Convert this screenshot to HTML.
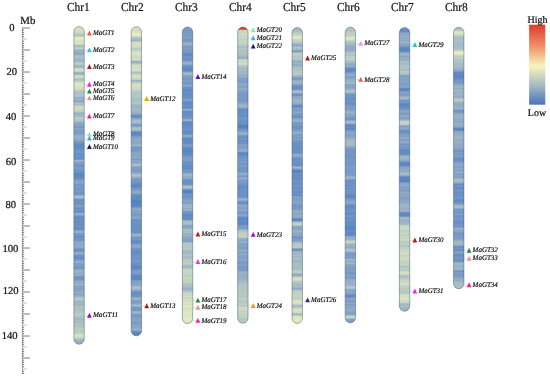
<!DOCTYPE html><html><head><meta charset="utf-8"><style>html,body{margin:0;padding:0;background:#fff;width:550px;height:376px;overflow:hidden}svg{display:block;filter:blur(0.3px)}text{text-rendering:geometricPrecision}</style></head><body>
<svg width="550" height="376" viewBox="0 0 550 376" font-family="'Liberation Serif', serif">
<defs>
<linearGradient id="leg" x1="0" y1="0" x2="0" y2="1"><stop offset="0" stop-color="#dc3a2e"/><stop offset="0.25" stop-color="#ee8a64"/><stop offset="0.52" stop-color="#f8f4bc"/><stop offset="0.75" stop-color="#a8bcc0"/><stop offset="1" stop-color="#4a74bc"/></linearGradient>
<linearGradient id="g0" gradientUnits="userSpaceOnUse" x1="0" y1="26.5" x2="0" y2="344.2"><stop offset="0.0000" stop-color="#d0ddc2"/><stop offset="0.0035" stop-color="#d5e0c2"/><stop offset="0.0069" stop-color="#d2dec2"/><stop offset="0.0104" stop-color="#d5e1c2"/><stop offset="0.0138" stop-color="#d6e1c2"/><stop offset="0.0173" stop-color="#cddbc2"/><stop offset="0.0208" stop-color="#c5d4c2"/><stop offset="0.0242" stop-color="#bccdc3"/><stop offset="0.0277" stop-color="#a9bec4"/><stop offset="0.0312" stop-color="#c1d1c2"/><stop offset="0.0346" stop-color="#e0e8c2"/><stop offset="0.0381" stop-color="#e2eac2"/><stop offset="0.0415" stop-color="#e1e9c2"/><stop offset="0.0450" stop-color="#d4e0c2"/><stop offset="0.0485" stop-color="#dbe5c2"/><stop offset="0.0519" stop-color="#dbe5c2"/><stop offset="0.0554" stop-color="#d8e3c2"/><stop offset="0.0589" stop-color="#b1c4c4"/><stop offset="0.0623" stop-color="#a0b7c5"/><stop offset="0.0658" stop-color="#b6c9c3"/><stop offset="0.0692" stop-color="#c5d4c2"/><stop offset="0.0727" stop-color="#a0b7c5"/><stop offset="0.0762" stop-color="#9cb3c6"/><stop offset="0.0796" stop-color="#98b1c6"/><stop offset="0.0831" stop-color="#90abc6"/><stop offset="0.0866" stop-color="#88a5c6"/><stop offset="0.0900" stop-color="#a3b9c5"/><stop offset="0.0935" stop-color="#a4bac5"/><stop offset="0.0969" stop-color="#b2c5c4"/><stop offset="0.1004" stop-color="#a8bdc5"/><stop offset="0.1039" stop-color="#9bb3c6"/><stop offset="0.1073" stop-color="#9fb6c5"/><stop offset="0.1108" stop-color="#9db5c5"/><stop offset="0.1143" stop-color="#bfd0c2"/><stop offset="0.1177" stop-color="#b9cbc3"/><stop offset="0.1212" stop-color="#b2c5c4"/><stop offset="0.1246" stop-color="#9eb5c5"/><stop offset="0.1281" stop-color="#9cb4c6"/><stop offset="0.1316" stop-color="#c3d3c2"/><stop offset="0.1350" stop-color="#cfdcc2"/><stop offset="0.1385" stop-color="#dae4c2"/><stop offset="0.1420" stop-color="#bdcec3"/><stop offset="0.1454" stop-color="#99b1c6"/><stop offset="0.1489" stop-color="#90abc6"/><stop offset="0.1523" stop-color="#b2c5c4"/><stop offset="0.1558" stop-color="#d2dfc2"/><stop offset="0.1593" stop-color="#d2dec2"/><stop offset="0.1627" stop-color="#c3d3c2"/><stop offset="0.1662" stop-color="#a6bcc5"/><stop offset="0.1697" stop-color="#b1c5c4"/><stop offset="0.1731" stop-color="#c1d1c2"/><stop offset="0.1766" stop-color="#d9e4c2"/><stop offset="0.1800" stop-color="#dbe5c2"/><stop offset="0.1835" stop-color="#e0e8c2"/><stop offset="0.1870" stop-color="#dde7c2"/><stop offset="0.1904" stop-color="#d7e2c2"/><stop offset="0.1939" stop-color="#d3dfc2"/><stop offset="0.1974" stop-color="#cad8c2"/><stop offset="0.2008" stop-color="#c1d1c2"/><stop offset="0.2043" stop-color="#afc3c4"/><stop offset="0.2077" stop-color="#b2c5c4"/><stop offset="0.2112" stop-color="#a8bdc5"/><stop offset="0.2147" stop-color="#b4c7c3"/><stop offset="0.2181" stop-color="#afc3c4"/><stop offset="0.2216" stop-color="#a5bbc5"/><stop offset="0.2251" stop-color="#90abc6"/><stop offset="0.2285" stop-color="#9eb5c5"/><stop offset="0.2320" stop-color="#99b2c6"/><stop offset="0.2354" stop-color="#7a9bc6"/><stop offset="0.2389" stop-color="#a6bcc5"/><stop offset="0.2424" stop-color="#acc0c4"/><stop offset="0.2458" stop-color="#a6bcc5"/><stop offset="0.2493" stop-color="#bccdc3"/><stop offset="0.2528" stop-color="#cfdcc2"/><stop offset="0.2562" stop-color="#d1dec2"/><stop offset="0.2597" stop-color="#c4d3c2"/><stop offset="0.2631" stop-color="#cddac2"/><stop offset="0.2666" stop-color="#c4d3c2"/><stop offset="0.2701" stop-color="#b2c5c4"/><stop offset="0.2735" stop-color="#91acc6"/><stop offset="0.2770" stop-color="#9eb6c5"/><stop offset="0.2805" stop-color="#a0b7c5"/><stop offset="0.2839" stop-color="#a5bac5"/><stop offset="0.2874" stop-color="#c1d1c2"/><stop offset="0.2908" stop-color="#b5c7c3"/><stop offset="0.2943" stop-color="#b0c4c4"/><stop offset="0.2978" stop-color="#b4c7c3"/><stop offset="0.3012" stop-color="#92acc6"/><stop offset="0.3047" stop-color="#8aa6c6"/><stop offset="0.3082" stop-color="#8aa6c6"/><stop offset="0.3116" stop-color="#89a6c6"/><stop offset="0.3151" stop-color="#7c9cc6"/><stop offset="0.3185" stop-color="#799ac6"/><stop offset="0.3220" stop-color="#91abc6"/><stop offset="0.3255" stop-color="#7a9bc6"/><stop offset="0.3289" stop-color="#83a1c6"/><stop offset="0.3324" stop-color="#81a0c6"/><stop offset="0.3359" stop-color="#7396c6"/><stop offset="0.3393" stop-color="#88a5c6"/><stop offset="0.3428" stop-color="#96afc6"/><stop offset="0.3462" stop-color="#99b1c6"/><stop offset="0.3497" stop-color="#98b1c6"/><stop offset="0.3532" stop-color="#97b0c6"/><stop offset="0.3566" stop-color="#8da8c6"/><stop offset="0.3601" stop-color="#83a1c6"/><stop offset="0.3636" stop-color="#7698c6"/><stop offset="0.3670" stop-color="#6b92c5"/><stop offset="0.3705" stop-color="#638dc4"/><stop offset="0.3739" stop-color="#5b88c4"/><stop offset="0.3774" stop-color="#5b88c4"/><stop offset="0.3809" stop-color="#6890c5"/><stop offset="0.3843" stop-color="#5e8ac4"/><stop offset="0.3878" stop-color="#6d93c5"/><stop offset="0.3912" stop-color="#6b92c5"/><stop offset="0.3947" stop-color="#7497c6"/><stop offset="0.3982" stop-color="#7195c6"/><stop offset="0.4016" stop-color="#608bc4"/><stop offset="0.4051" stop-color="#6d92c5"/><stop offset="0.4086" stop-color="#6d93c5"/><stop offset="0.4120" stop-color="#608bc4"/><stop offset="0.4155" stop-color="#6d93c5"/><stop offset="0.4189" stop-color="#7598c6"/><stop offset="0.4224" stop-color="#a6bcc5"/><stop offset="0.4259" stop-color="#8ba7c6"/><stop offset="0.4293" stop-color="#7c9cc6"/><stop offset="0.4328" stop-color="#7d9dc6"/><stop offset="0.4363" stop-color="#6c92c5"/><stop offset="0.4397" stop-color="#6d92c5"/><stop offset="0.4432" stop-color="#7b9cc6"/><stop offset="0.4466" stop-color="#83a2c6"/><stop offset="0.4501" stop-color="#7195c6"/><stop offset="0.4536" stop-color="#7597c6"/><stop offset="0.4570" stop-color="#6e94c5"/><stop offset="0.4605" stop-color="#5f8bc4"/><stop offset="0.4640" stop-color="#5c89c4"/><stop offset="0.4674" stop-color="#5c88c4"/><stop offset="0.4709" stop-color="#5c89c4"/><stop offset="0.4743" stop-color="#608bc4"/><stop offset="0.4778" stop-color="#638dc4"/><stop offset="0.4813" stop-color="#7396c6"/><stop offset="0.4847" stop-color="#84a2c6"/><stop offset="0.4882" stop-color="#82a1c6"/><stop offset="0.4917" stop-color="#8ba7c6"/><stop offset="0.4951" stop-color="#83a1c6"/><stop offset="0.4986" stop-color="#7296c6"/><stop offset="0.5020" stop-color="#7095c6"/><stop offset="0.5055" stop-color="#7f9ec6"/><stop offset="0.5090" stop-color="#7095c6"/><stop offset="0.5124" stop-color="#6f94c5"/><stop offset="0.5159" stop-color="#7597c6"/><stop offset="0.5194" stop-color="#7c9cc6"/><stop offset="0.5228" stop-color="#6d93c5"/><stop offset="0.5263" stop-color="#7296c6"/><stop offset="0.5297" stop-color="#7296c6"/><stop offset="0.5332" stop-color="#a2b9c5"/><stop offset="0.5367" stop-color="#adc1c4"/><stop offset="0.5401" stop-color="#a2b9c5"/><stop offset="0.5436" stop-color="#6f94c5"/><stop offset="0.5471" stop-color="#6b92c5"/><stop offset="0.5505" stop-color="#6d93c5"/><stop offset="0.5540" stop-color="#7296c6"/><stop offset="0.5574" stop-color="#6990c5"/><stop offset="0.5609" stop-color="#7296c6"/><stop offset="0.5644" stop-color="#81a0c6"/><stop offset="0.5678" stop-color="#84a2c6"/><stop offset="0.5713" stop-color="#638dc4"/><stop offset="0.5748" stop-color="#7195c6"/><stop offset="0.5782" stop-color="#7195c6"/><stop offset="0.5817" stop-color="#638dc4"/><stop offset="0.5851" stop-color="#6c92c5"/><stop offset="0.5886" stop-color="#95aec6"/><stop offset="0.5921" stop-color="#90abc6"/><stop offset="0.5955" stop-color="#789ac6"/><stop offset="0.5990" stop-color="#678fc5"/><stop offset="0.6025" stop-color="#628cc4"/><stop offset="0.6059" stop-color="#668ec5"/><stop offset="0.6094" stop-color="#7095c6"/><stop offset="0.6128" stop-color="#658ec5"/><stop offset="0.6163" stop-color="#678fc5"/><stop offset="0.6198" stop-color="#6890c5"/><stop offset="0.6232" stop-color="#6890c5"/><stop offset="0.6267" stop-color="#6890c5"/><stop offset="0.6302" stop-color="#7396c6"/><stop offset="0.6336" stop-color="#638dc4"/><stop offset="0.6371" stop-color="#5f8bc4"/><stop offset="0.6405" stop-color="#7497c6"/><stop offset="0.6440" stop-color="#8ea9c6"/><stop offset="0.6475" stop-color="#a1b7c5"/><stop offset="0.6509" stop-color="#7799c6"/><stop offset="0.6544" stop-color="#7497c6"/><stop offset="0.6579" stop-color="#7396c6"/><stop offset="0.6613" stop-color="#648dc4"/><stop offset="0.6648" stop-color="#6f94c5"/><stop offset="0.6682" stop-color="#7195c6"/><stop offset="0.6717" stop-color="#6e93c5"/><stop offset="0.6752" stop-color="#7a9bc6"/><stop offset="0.6786" stop-color="#90abc6"/><stop offset="0.6821" stop-color="#91acc6"/><stop offset="0.6856" stop-color="#8ea9c6"/><stop offset="0.6890" stop-color="#8aa6c6"/><stop offset="0.6925" stop-color="#98b1c6"/><stop offset="0.6959" stop-color="#86a4c6"/><stop offset="0.6994" stop-color="#799ac6"/><stop offset="0.7029" stop-color="#608bc4"/><stop offset="0.7063" stop-color="#7396c6"/><stop offset="0.7098" stop-color="#7f9ec6"/><stop offset="0.7133" stop-color="#9fb6c5"/><stop offset="0.7167" stop-color="#85a3c6"/><stop offset="0.7202" stop-color="#7396c6"/><stop offset="0.7236" stop-color="#6c92c5"/><stop offset="0.7271" stop-color="#5f8bc4"/><stop offset="0.7306" stop-color="#6f94c5"/><stop offset="0.7340" stop-color="#7195c6"/><stop offset="0.7375" stop-color="#87a4c6"/><stop offset="0.7410" stop-color="#9ab2c6"/><stop offset="0.7444" stop-color="#8aa6c6"/><stop offset="0.7479" stop-color="#7497c6"/><stop offset="0.7513" stop-color="#83a1c6"/><stop offset="0.7548" stop-color="#799ac6"/><stop offset="0.7583" stop-color="#7396c6"/><stop offset="0.7617" stop-color="#7195c6"/><stop offset="0.7652" stop-color="#8da9c6"/><stop offset="0.7686" stop-color="#95afc6"/><stop offset="0.7721" stop-color="#9cb4c5"/><stop offset="0.7756" stop-color="#92acc6"/><stop offset="0.7790" stop-color="#8da9c6"/><stop offset="0.7825" stop-color="#97b0c6"/><stop offset="0.7860" stop-color="#82a1c6"/><stop offset="0.7894" stop-color="#638dc4"/><stop offset="0.7929" stop-color="#7095c6"/><stop offset="0.7963" stop-color="#7396c6"/><stop offset="0.7998" stop-color="#82a1c6"/><stop offset="0.8033" stop-color="#9db5c5"/><stop offset="0.8067" stop-color="#88a5c6"/><stop offset="0.8102" stop-color="#99b1c6"/><stop offset="0.8137" stop-color="#9eb5c5"/><stop offset="0.8171" stop-color="#89a6c6"/><stop offset="0.8206" stop-color="#86a3c6"/><stop offset="0.8240" stop-color="#7f9fc6"/><stop offset="0.8275" stop-color="#87a4c6"/><stop offset="0.8310" stop-color="#84a2c6"/><stop offset="0.8344" stop-color="#8ca8c6"/><stop offset="0.8379" stop-color="#9ab2c6"/><stop offset="0.8414" stop-color="#88a5c6"/><stop offset="0.8448" stop-color="#89a6c6"/><stop offset="0.8483" stop-color="#95aec6"/><stop offset="0.8517" stop-color="#a3bac5"/><stop offset="0.8552" stop-color="#b0c4c4"/><stop offset="0.8587" stop-color="#bdcec3"/><stop offset="0.8621" stop-color="#aec2c4"/><stop offset="0.8656" stop-color="#99b1c6"/><stop offset="0.8691" stop-color="#a2b9c5"/><stop offset="0.8725" stop-color="#9eb5c5"/><stop offset="0.8760" stop-color="#9eb5c5"/><stop offset="0.8794" stop-color="#a4bac5"/><stop offset="0.8829" stop-color="#afc3c4"/><stop offset="0.8864" stop-color="#b0c3c4"/><stop offset="0.8898" stop-color="#abc0c4"/><stop offset="0.8933" stop-color="#aabfc4"/><stop offset="0.8968" stop-color="#b3c6c4"/><stop offset="0.9002" stop-color="#b1c5c4"/><stop offset="0.9037" stop-color="#b9cbc3"/><stop offset="0.9071" stop-color="#bccdc3"/><stop offset="0.9106" stop-color="#b6c8c3"/><stop offset="0.9141" stop-color="#acc1c4"/><stop offset="0.9175" stop-color="#a5bbc5"/><stop offset="0.9210" stop-color="#9fb6c5"/><stop offset="0.9245" stop-color="#a4bac5"/><stop offset="0.9279" stop-color="#a8bdc4"/><stop offset="0.9314" stop-color="#a2b8c5"/><stop offset="0.9348" stop-color="#afc3c4"/><stop offset="0.9383" stop-color="#b0c4c4"/><stop offset="0.9418" stop-color="#adc1c4"/><stop offset="0.9452" stop-color="#aec2c4"/><stop offset="0.9487" stop-color="#b6c8c3"/><stop offset="0.9522" stop-color="#bccdc3"/><stop offset="0.9556" stop-color="#b7c9c3"/><stop offset="0.9591" stop-color="#bbcdc3"/><stop offset="0.9625" stop-color="#b7c9c3"/><stop offset="0.9660" stop-color="#bfd0c2"/><stop offset="0.9695" stop-color="#d4e0c2"/><stop offset="0.9729" stop-color="#d6e2c2"/><stop offset="0.9764" stop-color="#cddbc2"/><stop offset="0.9799" stop-color="#c8d7c2"/><stop offset="0.9833" stop-color="#b1c4c4"/><stop offset="0.9868" stop-color="#9eb5c5"/><stop offset="0.9902" stop-color="#9fb6c5"/><stop offset="0.9937" stop-color="#92acc6"/><stop offset="0.9972" stop-color="#9fb6c5"/></linearGradient>
<linearGradient id="g1" gradientUnits="userSpaceOnUse" x1="0" y1="26.7" x2="0" y2="335.8"><stop offset="0.0000" stop-color="#d5e1c2"/><stop offset="0.0036" stop-color="#d3dfc2"/><stop offset="0.0071" stop-color="#d5e1c2"/><stop offset="0.0107" stop-color="#cfdcc2"/><stop offset="0.0142" stop-color="#d8e3c2"/><stop offset="0.0178" stop-color="#d8e3c2"/><stop offset="0.0214" stop-color="#e1e9c2"/><stop offset="0.0249" stop-color="#eaf0be"/><stop offset="0.0285" stop-color="#e7edbf"/><stop offset="0.0320" stop-color="#cad8c2"/><stop offset="0.0356" stop-color="#b5c8c3"/><stop offset="0.0391" stop-color="#a9bec4"/><stop offset="0.0427" stop-color="#a1b7c5"/><stop offset="0.0463" stop-color="#9bb3c6"/><stop offset="0.0498" stop-color="#cfdcc2"/><stop offset="0.0534" stop-color="#d5e1c2"/><stop offset="0.0569" stop-color="#d2dfc2"/><stop offset="0.0605" stop-color="#d0ddc2"/><stop offset="0.0641" stop-color="#d6e2c2"/><stop offset="0.0676" stop-color="#c5d4c2"/><stop offset="0.0712" stop-color="#b9cbc3"/><stop offset="0.0747" stop-color="#b9cbc3"/><stop offset="0.0783" stop-color="#c7d6c2"/><stop offset="0.0819" stop-color="#d7e2c2"/><stop offset="0.0854" stop-color="#dae4c2"/><stop offset="0.0890" stop-color="#dae4c2"/><stop offset="0.0925" stop-color="#d5e1c2"/><stop offset="0.0961" stop-color="#cddac2"/><stop offset="0.0996" stop-color="#ccdac2"/><stop offset="0.1032" stop-color="#cedbc2"/><stop offset="0.1068" stop-color="#dae4c2"/><stop offset="0.1103" stop-color="#aec2c4"/><stop offset="0.1139" stop-color="#92acc6"/><stop offset="0.1174" stop-color="#9fb6c5"/><stop offset="0.1210" stop-color="#bbccc3"/><stop offset="0.1246" stop-color="#d5e0c2"/><stop offset="0.1281" stop-color="#d3dfc2"/><stop offset="0.1317" stop-color="#cddbc2"/><stop offset="0.1352" stop-color="#d5e1c2"/><stop offset="0.1388" stop-color="#d8e3c2"/><stop offset="0.1423" stop-color="#cedcc2"/><stop offset="0.1459" stop-color="#b9cbc3"/><stop offset="0.1495" stop-color="#acc1c4"/><stop offset="0.1530" stop-color="#b6c8c3"/><stop offset="0.1566" stop-color="#d4e0c2"/><stop offset="0.1601" stop-color="#d8e3c2"/><stop offset="0.1637" stop-color="#d3dfc2"/><stop offset="0.1673" stop-color="#cad8c2"/><stop offset="0.1708" stop-color="#c0d1c2"/><stop offset="0.1744" stop-color="#98b1c6"/><stop offset="0.1779" stop-color="#a6bcc5"/><stop offset="0.1815" stop-color="#bccdc3"/><stop offset="0.1851" stop-color="#d5e1c2"/><stop offset="0.1886" stop-color="#cedbc2"/><stop offset="0.1922" stop-color="#d7e2c2"/><stop offset="0.1957" stop-color="#cddbc2"/><stop offset="0.1993" stop-color="#cfdcc2"/><stop offset="0.2028" stop-color="#cedbc2"/><stop offset="0.2064" stop-color="#c0d0c2"/><stop offset="0.2100" stop-color="#b7c9c3"/><stop offset="0.2135" stop-color="#b6c9c3"/><stop offset="0.2171" stop-color="#b3c6c3"/><stop offset="0.2206" stop-color="#b4c7c3"/><stop offset="0.2242" stop-color="#baccc3"/><stop offset="0.2278" stop-color="#b0c4c4"/><stop offset="0.2313" stop-color="#a8bdc4"/><stop offset="0.2349" stop-color="#adc1c4"/><stop offset="0.2384" stop-color="#a7bcc5"/><stop offset="0.2420" stop-color="#b1c4c4"/><stop offset="0.2456" stop-color="#b4c7c3"/><stop offset="0.2491" stop-color="#afc3c4"/><stop offset="0.2527" stop-color="#a2b8c5"/><stop offset="0.2562" stop-color="#9fb6c5"/><stop offset="0.2598" stop-color="#a1b7c5"/><stop offset="0.2633" stop-color="#97b0c6"/><stop offset="0.2669" stop-color="#a7bcc5"/><stop offset="0.2705" stop-color="#9eb6c5"/><stop offset="0.2740" stop-color="#9eb5c5"/><stop offset="0.2776" stop-color="#99b1c6"/><stop offset="0.2811" stop-color="#95aec6"/><stop offset="0.2847" stop-color="#789ac6"/><stop offset="0.2883" stop-color="#5d89c4"/><stop offset="0.2918" stop-color="#668fc5"/><stop offset="0.2954" stop-color="#7b9cc6"/><stop offset="0.2989" stop-color="#8faac6"/><stop offset="0.3025" stop-color="#a3b9c5"/><stop offset="0.3060" stop-color="#abc0c4"/><stop offset="0.3096" stop-color="#a2b9c5"/><stop offset="0.3132" stop-color="#9db5c5"/><stop offset="0.3167" stop-color="#7497c6"/><stop offset="0.3203" stop-color="#7698c6"/><stop offset="0.3238" stop-color="#8eaac6"/><stop offset="0.3274" stop-color="#acc0c4"/><stop offset="0.3310" stop-color="#acc1c4"/><stop offset="0.3345" stop-color="#b0c3c4"/><stop offset="0.3381" stop-color="#7e9dc6"/><stop offset="0.3416" stop-color="#5e8ac4"/><stop offset="0.3452" stop-color="#5a87c3"/><stop offset="0.3488" stop-color="#5d89c4"/><stop offset="0.3523" stop-color="#6890c5"/><stop offset="0.3559" stop-color="#7a9bc6"/><stop offset="0.3594" stop-color="#89a5c6"/><stop offset="0.3630" stop-color="#88a5c6"/><stop offset="0.3665" stop-color="#97b0c6"/><stop offset="0.3701" stop-color="#89a6c6"/><stop offset="0.3737" stop-color="#8aa7c6"/><stop offset="0.3772" stop-color="#8ba7c6"/><stop offset="0.3808" stop-color="#95aec6"/><stop offset="0.3843" stop-color="#a1b7c5"/><stop offset="0.3879" stop-color="#82a1c6"/><stop offset="0.3915" stop-color="#7597c6"/><stop offset="0.3950" stop-color="#7597c6"/><stop offset="0.3986" stop-color="#7698c6"/><stop offset="0.4021" stop-color="#7597c6"/><stop offset="0.4057" stop-color="#809fc6"/><stop offset="0.4093" stop-color="#8ba7c6"/><stop offset="0.4128" stop-color="#8ca8c6"/><stop offset="0.4164" stop-color="#84a2c6"/><stop offset="0.4199" stop-color="#8aa7c6"/><stop offset="0.4235" stop-color="#92acc6"/><stop offset="0.4270" stop-color="#7c9cc6"/><stop offset="0.4306" stop-color="#7e9ec6"/><stop offset="0.4342" stop-color="#89a6c6"/><stop offset="0.4377" stop-color="#8ba7c6"/><stop offset="0.4413" stop-color="#8aa6c6"/><stop offset="0.4448" stop-color="#a2b8c5"/><stop offset="0.4484" stop-color="#b4c7c3"/><stop offset="0.4520" stop-color="#8faac6"/><stop offset="0.4555" stop-color="#7f9ec6"/><stop offset="0.4591" stop-color="#83a2c6"/><stop offset="0.4626" stop-color="#7597c6"/><stop offset="0.4662" stop-color="#809fc6"/><stop offset="0.4698" stop-color="#7c9dc6"/><stop offset="0.4733" stop-color="#8ea9c6"/><stop offset="0.4769" stop-color="#9bb3c6"/><stop offset="0.4804" stop-color="#b5c8c3"/><stop offset="0.4840" stop-color="#aabfc4"/><stop offset="0.4875" stop-color="#90abc6"/><stop offset="0.4911" stop-color="#84a2c6"/><stop offset="0.4947" stop-color="#7195c6"/><stop offset="0.4982" stop-color="#7b9cc6"/><stop offset="0.5018" stop-color="#6e93c5"/><stop offset="0.5053" stop-color="#6e94c5"/><stop offset="0.5089" stop-color="#678fc5"/><stop offset="0.5125" stop-color="#5a87c3"/><stop offset="0.5160" stop-color="#5c89c4"/><stop offset="0.5196" stop-color="#5d89c4"/><stop offset="0.5231" stop-color="#7497c6"/><stop offset="0.5267" stop-color="#7e9dc6"/><stop offset="0.5302" stop-color="#7a9bc6"/><stop offset="0.5338" stop-color="#94aec6"/><stop offset="0.5374" stop-color="#91acc6"/><stop offset="0.5409" stop-color="#7396c6"/><stop offset="0.5445" stop-color="#6a91c5"/><stop offset="0.5480" stop-color="#628cc4"/><stop offset="0.5516" stop-color="#5e8ac4"/><stop offset="0.5552" stop-color="#5d89c4"/><stop offset="0.5587" stop-color="#5f8bc4"/><stop offset="0.5623" stop-color="#5986c3"/><stop offset="0.5658" stop-color="#5483c3"/><stop offset="0.5694" stop-color="#5584c3"/><stop offset="0.5730" stop-color="#5986c3"/><stop offset="0.5765" stop-color="#5986c3"/><stop offset="0.5801" stop-color="#5986c3"/><stop offset="0.5836" stop-color="#6c92c5"/><stop offset="0.5872" stop-color="#84a2c6"/><stop offset="0.5907" stop-color="#91abc6"/><stop offset="0.5943" stop-color="#8aa7c6"/><stop offset="0.5979" stop-color="#7a9bc6"/><stop offset="0.6014" stop-color="#84a2c6"/><stop offset="0.6050" stop-color="#7a9bc6"/><stop offset="0.6085" stop-color="#799ac6"/><stop offset="0.6121" stop-color="#7f9ec6"/><stop offset="0.6157" stop-color="#85a3c6"/><stop offset="0.6192" stop-color="#8da9c6"/><stop offset="0.6228" stop-color="#7798c6"/><stop offset="0.6263" stop-color="#658ec5"/><stop offset="0.6299" stop-color="#6e93c5"/><stop offset="0.6335" stop-color="#6a91c5"/><stop offset="0.6370" stop-color="#6a91c5"/><stop offset="0.6406" stop-color="#658ec5"/><stop offset="0.6441" stop-color="#6990c5"/><stop offset="0.6477" stop-color="#678fc5"/><stop offset="0.6512" stop-color="#6f94c5"/><stop offset="0.6548" stop-color="#6a91c5"/><stop offset="0.6584" stop-color="#6990c5"/><stop offset="0.6619" stop-color="#6a91c5"/><stop offset="0.6655" stop-color="#6a91c5"/><stop offset="0.6690" stop-color="#7f9ec6"/><stop offset="0.6726" stop-color="#9bb3c6"/><stop offset="0.6762" stop-color="#9db4c5"/><stop offset="0.6797" stop-color="#7698c6"/><stop offset="0.6833" stop-color="#7095c6"/><stop offset="0.6868" stop-color="#7497c6"/><stop offset="0.6904" stop-color="#6d93c5"/><stop offset="0.6940" stop-color="#638dc4"/><stop offset="0.6975" stop-color="#5a87c3"/><stop offset="0.7011" stop-color="#6d93c5"/><stop offset="0.7046" stop-color="#83a1c6"/><stop offset="0.7082" stop-color="#88a5c6"/><stop offset="0.7117" stop-color="#91abc6"/><stop offset="0.7153" stop-color="#7e9ec6"/><stop offset="0.7189" stop-color="#6f94c5"/><stop offset="0.7224" stop-color="#6c92c5"/><stop offset="0.7260" stop-color="#658ec5"/><stop offset="0.7295" stop-color="#638dc4"/><stop offset="0.7331" stop-color="#638dc4"/><stop offset="0.7367" stop-color="#618cc4"/><stop offset="0.7402" stop-color="#7095c6"/><stop offset="0.7438" stop-color="#7396c6"/><stop offset="0.7473" stop-color="#648dc4"/><stop offset="0.7509" stop-color="#6f94c5"/><stop offset="0.7544" stop-color="#799ac6"/><stop offset="0.7580" stop-color="#6f94c5"/><stop offset="0.7616" stop-color="#7899c6"/><stop offset="0.7651" stop-color="#6b92c5"/><stop offset="0.7687" stop-color="#6890c5"/><stop offset="0.7722" stop-color="#668fc5"/><stop offset="0.7758" stop-color="#5886c3"/><stop offset="0.7794" stop-color="#5a87c3"/><stop offset="0.7829" stop-color="#668ec5"/><stop offset="0.7865" stop-color="#6e93c5"/><stop offset="0.7900" stop-color="#7798c6"/><stop offset="0.7936" stop-color="#7f9ec6"/><stop offset="0.7972" stop-color="#7e9dc6"/><stop offset="0.8007" stop-color="#7698c6"/><stop offset="0.8043" stop-color="#5c88c4"/><stop offset="0.8078" stop-color="#5886c3"/><stop offset="0.8114" stop-color="#628cc4"/><stop offset="0.8149" stop-color="#5886c3"/><stop offset="0.8185" stop-color="#5f8bc4"/><stop offset="0.8221" stop-color="#7d9dc6"/><stop offset="0.8256" stop-color="#83a1c6"/><stop offset="0.8292" stop-color="#89a6c6"/><stop offset="0.8327" stop-color="#7d9dc6"/><stop offset="0.8363" stop-color="#89a6c6"/><stop offset="0.8399" stop-color="#9fb7c5"/><stop offset="0.8434" stop-color="#aabfc4"/><stop offset="0.8470" stop-color="#adc1c4"/><stop offset="0.8505" stop-color="#8ca8c6"/><stop offset="0.8541" stop-color="#8ca8c6"/><stop offset="0.8577" stop-color="#6a91c5"/><stop offset="0.8612" stop-color="#678fc5"/><stop offset="0.8648" stop-color="#6890c5"/><stop offset="0.8683" stop-color="#6c92c5"/><stop offset="0.8719" stop-color="#6e93c5"/><stop offset="0.8754" stop-color="#82a1c6"/><stop offset="0.8790" stop-color="#9eb5c5"/><stop offset="0.8826" stop-color="#96afc6"/><stop offset="0.8861" stop-color="#809fc6"/><stop offset="0.8897" stop-color="#7c9dc6"/><stop offset="0.8932" stop-color="#84a2c6"/><stop offset="0.8968" stop-color="#809fc6"/><stop offset="0.9004" stop-color="#a9bec4"/><stop offset="0.9039" stop-color="#a2b8c5"/><stop offset="0.9075" stop-color="#7b9cc6"/><stop offset="0.9110" stop-color="#7899c6"/><stop offset="0.9146" stop-color="#7597c6"/><stop offset="0.9181" stop-color="#7799c6"/><stop offset="0.9217" stop-color="#99b2c6"/><stop offset="0.9253" stop-color="#9ab3c6"/><stop offset="0.9288" stop-color="#96afc6"/><stop offset="0.9324" stop-color="#6f94c5"/><stop offset="0.9359" stop-color="#7a9bc6"/><stop offset="0.9395" stop-color="#7899c6"/><stop offset="0.9431" stop-color="#84a2c6"/><stop offset="0.9466" stop-color="#88a5c6"/><stop offset="0.9502" stop-color="#82a1c6"/><stop offset="0.9537" stop-color="#82a1c6"/><stop offset="0.9573" stop-color="#799ac6"/><stop offset="0.9609" stop-color="#799ac6"/><stop offset="0.9644" stop-color="#81a0c6"/><stop offset="0.9680" stop-color="#93adc6"/><stop offset="0.9715" stop-color="#7f9fc6"/><stop offset="0.9751" stop-color="#8da8c6"/><stop offset="0.9786" stop-color="#99b1c6"/><stop offset="0.9822" stop-color="#92acc6"/><stop offset="0.9858" stop-color="#6a91c5"/><stop offset="0.9893" stop-color="#6890c5"/><stop offset="0.9929" stop-color="#5886c3"/><stop offset="0.9964" stop-color="#608bc4"/><stop offset="1.0000" stop-color="#5d89c4"/></linearGradient>
<linearGradient id="g2" gradientUnits="userSpaceOnUse" x1="0" y1="27.0" x2="0" y2="323.5"><stop offset="0.0000" stop-color="#7295c6"/><stop offset="0.0037" stop-color="#789ac6"/><stop offset="0.0074" stop-color="#7d9dc6"/><stop offset="0.0111" stop-color="#6d93c5"/><stop offset="0.0148" stop-color="#7799c6"/><stop offset="0.0185" stop-color="#7698c6"/><stop offset="0.0223" stop-color="#82a0c6"/><stop offset="0.0260" stop-color="#7b9bc6"/><stop offset="0.0297" stop-color="#789ac6"/><stop offset="0.0334" stop-color="#83a1c6"/><stop offset="0.0371" stop-color="#87a4c6"/><stop offset="0.0408" stop-color="#7396c6"/><stop offset="0.0445" stop-color="#7698c6"/><stop offset="0.0482" stop-color="#7296c6"/><stop offset="0.0519" stop-color="#91acc6"/><stop offset="0.0556" stop-color="#9db5c5"/><stop offset="0.0594" stop-color="#90abc6"/><stop offset="0.0631" stop-color="#90abc6"/><stop offset="0.0668" stop-color="#6d92c5"/><stop offset="0.0705" stop-color="#7f9ec6"/><stop offset="0.0742" stop-color="#81a0c6"/><stop offset="0.0779" stop-color="#6e94c5"/><stop offset="0.0816" stop-color="#7c9cc6"/><stop offset="0.0853" stop-color="#6e93c5"/><stop offset="0.0890" stop-color="#6d93c5"/><stop offset="0.0927" stop-color="#5a87c3"/><stop offset="0.0965" stop-color="#648dc4"/><stop offset="0.1002" stop-color="#7296c6"/><stop offset="0.1039" stop-color="#6d93c5"/><stop offset="0.1076" stop-color="#668fc5"/><stop offset="0.1113" stop-color="#618cc4"/><stop offset="0.1150" stop-color="#86a3c6"/><stop offset="0.1187" stop-color="#8ca8c6"/><stop offset="0.1224" stop-color="#a1b7c5"/><stop offset="0.1261" stop-color="#8ca8c6"/><stop offset="0.1298" stop-color="#799ac6"/><stop offset="0.1336" stop-color="#658ec5"/><stop offset="0.1373" stop-color="#678fc5"/><stop offset="0.1410" stop-color="#5886c3"/><stop offset="0.1447" stop-color="#5c89c4"/><stop offset="0.1484" stop-color="#608bc4"/><stop offset="0.1521" stop-color="#8da9c6"/><stop offset="0.1558" stop-color="#9fb6c5"/><stop offset="0.1595" stop-color="#a5bbc5"/><stop offset="0.1632" stop-color="#86a3c6"/><stop offset="0.1669" stop-color="#7e9ec6"/><stop offset="0.1707" stop-color="#81a0c6"/><stop offset="0.1744" stop-color="#7095c6"/><stop offset="0.1781" stop-color="#7899c6"/><stop offset="0.1818" stop-color="#83a1c6"/><stop offset="0.1855" stop-color="#7799c6"/><stop offset="0.1892" stop-color="#7396c6"/><stop offset="0.1929" stop-color="#7195c6"/><stop offset="0.1966" stop-color="#91acc6"/><stop offset="0.2003" stop-color="#82a0c6"/><stop offset="0.2040" stop-color="#6e93c5"/><stop offset="0.2078" stop-color="#648dc4"/><stop offset="0.2115" stop-color="#648dc4"/><stop offset="0.2152" stop-color="#5c89c4"/><stop offset="0.2189" stop-color="#668fc5"/><stop offset="0.2226" stop-color="#6c92c5"/><stop offset="0.2263" stop-color="#5f8bc4"/><stop offset="0.2300" stop-color="#5f8bc4"/><stop offset="0.2337" stop-color="#6c92c5"/><stop offset="0.2374" stop-color="#648ec5"/><stop offset="0.2411" stop-color="#6f94c5"/><stop offset="0.2449" stop-color="#88a5c6"/><stop offset="0.2486" stop-color="#7b9bc6"/><stop offset="0.2523" stop-color="#608bc4"/><stop offset="0.2560" stop-color="#628cc4"/><stop offset="0.2597" stop-color="#5e8ac4"/><stop offset="0.2634" stop-color="#668ec5"/><stop offset="0.2671" stop-color="#6890c5"/><stop offset="0.2708" stop-color="#5f8ac4"/><stop offset="0.2745" stop-color="#628cc4"/><stop offset="0.2782" stop-color="#98b0c6"/><stop offset="0.2820" stop-color="#7f9fc6"/><stop offset="0.2857" stop-color="#5b88c4"/><stop offset="0.2894" stop-color="#648ec5"/><stop offset="0.2931" stop-color="#678fc5"/><stop offset="0.2968" stop-color="#618cc4"/><stop offset="0.3005" stop-color="#6890c5"/><stop offset="0.3042" stop-color="#6d93c5"/><stop offset="0.3079" stop-color="#7296c6"/><stop offset="0.3116" stop-color="#8faac6"/><stop offset="0.3153" stop-color="#9ab2c6"/><stop offset="0.3191" stop-color="#6b92c5"/><stop offset="0.3228" stop-color="#5c89c4"/><stop offset="0.3265" stop-color="#5c88c4"/><stop offset="0.3302" stop-color="#5d89c4"/><stop offset="0.3339" stop-color="#6a91c5"/><stop offset="0.3376" stop-color="#648dc4"/><stop offset="0.3413" stop-color="#6991c5"/><stop offset="0.3450" stop-color="#6c92c5"/><stop offset="0.3487" stop-color="#6a91c5"/><stop offset="0.3524" stop-color="#5b88c4"/><stop offset="0.3562" stop-color="#6c92c5"/><stop offset="0.3599" stop-color="#5c88c4"/><stop offset="0.3636" stop-color="#7b9cc6"/><stop offset="0.3673" stop-color="#9db5c5"/><stop offset="0.3710" stop-color="#83a2c6"/><stop offset="0.3747" stop-color="#618cc4"/><stop offset="0.3784" stop-color="#5b88c4"/><stop offset="0.3821" stop-color="#5c88c4"/><stop offset="0.3858" stop-color="#668fc5"/><stop offset="0.3895" stop-color="#5e8ac4"/><stop offset="0.3933" stop-color="#6a91c5"/><stop offset="0.3970" stop-color="#7799c6"/><stop offset="0.4007" stop-color="#7c9dc6"/><stop offset="0.4044" stop-color="#6c92c5"/><stop offset="0.4081" stop-color="#5d89c4"/><stop offset="0.4118" stop-color="#5a87c3"/><stop offset="0.4155" stop-color="#5886c3"/><stop offset="0.4192" stop-color="#5a87c3"/><stop offset="0.4229" stop-color="#5a87c3"/><stop offset="0.4266" stop-color="#5d89c4"/><stop offset="0.4304" stop-color="#628cc4"/><stop offset="0.4341" stop-color="#6d93c5"/><stop offset="0.4378" stop-color="#7597c6"/><stop offset="0.4415" stop-color="#7e9ec6"/><stop offset="0.4452" stop-color="#81a0c6"/><stop offset="0.4489" stop-color="#7d9dc6"/><stop offset="0.4526" stop-color="#7598c6"/><stop offset="0.4563" stop-color="#658ec5"/><stop offset="0.4600" stop-color="#6f94c5"/><stop offset="0.4637" stop-color="#6990c5"/><stop offset="0.4675" stop-color="#5f8ac4"/><stop offset="0.4712" stop-color="#668fc5"/><stop offset="0.4749" stop-color="#5c88c4"/><stop offset="0.4786" stop-color="#648ec5"/><stop offset="0.4823" stop-color="#7396c6"/><stop offset="0.4860" stop-color="#6b92c5"/><stop offset="0.4897" stop-color="#7497c6"/><stop offset="0.4934" stop-color="#89a5c6"/><stop offset="0.4971" stop-color="#a1b8c5"/><stop offset="0.5008" stop-color="#9cb3c6"/><stop offset="0.5046" stop-color="#90abc6"/><stop offset="0.5083" stop-color="#92acc6"/><stop offset="0.5120" stop-color="#85a3c6"/><stop offset="0.5157" stop-color="#6a91c5"/><stop offset="0.5194" stop-color="#6b91c5"/><stop offset="0.5231" stop-color="#638dc4"/><stop offset="0.5268" stop-color="#6c92c5"/><stop offset="0.5305" stop-color="#6e94c5"/><stop offset="0.5342" stop-color="#8ea9c6"/><stop offset="0.5379" stop-color="#adc1c4"/><stop offset="0.5417" stop-color="#adc1c4"/><stop offset="0.5454" stop-color="#96afc6"/><stop offset="0.5491" stop-color="#618cc4"/><stop offset="0.5528" stop-color="#5785c3"/><stop offset="0.5565" stop-color="#5181c2"/><stop offset="0.5602" stop-color="#5c89c4"/><stop offset="0.5639" stop-color="#7597c6"/><stop offset="0.5676" stop-color="#7195c6"/><stop offset="0.5713" stop-color="#6991c5"/><stop offset="0.5750" stop-color="#7497c6"/><stop offset="0.5788" stop-color="#7799c6"/><stop offset="0.5825" stop-color="#7f9fc6"/><stop offset="0.5862" stop-color="#87a4c6"/><stop offset="0.5899" stop-color="#8ca8c6"/><stop offset="0.5936" stop-color="#789ac6"/><stop offset="0.5973" stop-color="#8faac6"/><stop offset="0.6010" stop-color="#9fb6c5"/><stop offset="0.6047" stop-color="#98b1c6"/><stop offset="0.6084" stop-color="#a1b7c5"/><stop offset="0.6121" stop-color="#8aa7c6"/><stop offset="0.6159" stop-color="#9fb6c5"/><stop offset="0.6196" stop-color="#8da8c6"/><stop offset="0.6233" stop-color="#6c92c5"/><stop offset="0.6270" stop-color="#7296c6"/><stop offset="0.6307" stop-color="#6890c5"/><stop offset="0.6344" stop-color="#5a87c3"/><stop offset="0.6381" stop-color="#618cc4"/><stop offset="0.6418" stop-color="#668ec5"/><stop offset="0.6455" stop-color="#648ec5"/><stop offset="0.6492" stop-color="#6b91c5"/><stop offset="0.6530" stop-color="#96afc6"/><stop offset="0.6567" stop-color="#afc3c4"/><stop offset="0.6604" stop-color="#a7bdc5"/><stop offset="0.6641" stop-color="#afc3c4"/><stop offset="0.6678" stop-color="#93adc6"/><stop offset="0.6715" stop-color="#82a0c6"/><stop offset="0.6752" stop-color="#87a4c6"/><stop offset="0.6789" stop-color="#8faac6"/><stop offset="0.6826" stop-color="#a3b9c5"/><stop offset="0.6863" stop-color="#acc0c4"/><stop offset="0.6901" stop-color="#a3bac5"/><stop offset="0.6938" stop-color="#aabfc4"/><stop offset="0.6975" stop-color="#91acc6"/><stop offset="0.7012" stop-color="#9cb3c6"/><stop offset="0.7049" stop-color="#9db5c5"/><stop offset="0.7086" stop-color="#85a3c6"/><stop offset="0.7123" stop-color="#90abc6"/><stop offset="0.7160" stop-color="#809fc6"/><stop offset="0.7197" stop-color="#81a0c6"/><stop offset="0.7234" stop-color="#81a0c6"/><stop offset="0.7272" stop-color="#a8bdc5"/><stop offset="0.7309" stop-color="#b3c6c3"/><stop offset="0.7346" stop-color="#b8cac3"/><stop offset="0.7383" stop-color="#b4c7c3"/><stop offset="0.7420" stop-color="#b1c5c4"/><stop offset="0.7457" stop-color="#b3c6c3"/><stop offset="0.7494" stop-color="#bbcdc3"/><stop offset="0.7531" stop-color="#afc3c4"/><stop offset="0.7568" stop-color="#a3b9c5"/><stop offset="0.7605" stop-color="#a6bcc5"/><stop offset="0.7642" stop-color="#a3b9c5"/><stop offset="0.7680" stop-color="#b3c6c4"/><stop offset="0.7717" stop-color="#afc3c4"/><stop offset="0.7754" stop-color="#a2b8c5"/><stop offset="0.7791" stop-color="#a9bec4"/><stop offset="0.7828" stop-color="#b6c8c3"/><stop offset="0.7865" stop-color="#bbccc3"/><stop offset="0.7902" stop-color="#b8cac3"/><stop offset="0.7939" stop-color="#baccc3"/><stop offset="0.7976" stop-color="#bfcfc2"/><stop offset="0.8013" stop-color="#b4c7c3"/><stop offset="0.8051" stop-color="#aec2c4"/><stop offset="0.8088" stop-color="#96afc6"/><stop offset="0.8125" stop-color="#aabfc4"/><stop offset="0.8162" stop-color="#bfcfc2"/><stop offset="0.8199" stop-color="#c7d6c2"/><stop offset="0.8236" stop-color="#c8d7c2"/><stop offset="0.8273" stop-color="#c9d8c2"/><stop offset="0.8310" stop-color="#c0d1c2"/><stop offset="0.8347" stop-color="#c4d3c2"/><stop offset="0.8384" stop-color="#bccdc3"/><stop offset="0.8422" stop-color="#c5d5c2"/><stop offset="0.8459" stop-color="#c7d6c2"/><stop offset="0.8496" stop-color="#c1d1c2"/><stop offset="0.8533" stop-color="#bfcfc2"/><stop offset="0.8570" stop-color="#c6d5c2"/><stop offset="0.8607" stop-color="#bdcec3"/><stop offset="0.8644" stop-color="#b7cac3"/><stop offset="0.8681" stop-color="#aec2c4"/><stop offset="0.8718" stop-color="#adc1c4"/><stop offset="0.8755" stop-color="#aabec4"/><stop offset="0.8793" stop-color="#9db4c5"/><stop offset="0.8830" stop-color="#95aec6"/><stop offset="0.8867" stop-color="#9fb6c5"/><stop offset="0.8904" stop-color="#b2c5c4"/><stop offset="0.8941" stop-color="#b6c8c3"/><stop offset="0.8978" stop-color="#cddac2"/><stop offset="0.9015" stop-color="#c9d7c2"/><stop offset="0.9052" stop-color="#c6d5c2"/><stop offset="0.9089" stop-color="#d2dec2"/><stop offset="0.9126" stop-color="#c4d4c2"/><stop offset="0.9164" stop-color="#c8d7c2"/><stop offset="0.9201" stop-color="#d3dfc2"/><stop offset="0.9238" stop-color="#d1dec2"/><stop offset="0.9275" stop-color="#dae4c2"/><stop offset="0.9312" stop-color="#d7e2c2"/><stop offset="0.9349" stop-color="#d3dfc2"/><stop offset="0.9386" stop-color="#dde6c2"/><stop offset="0.9423" stop-color="#e0e9c2"/><stop offset="0.9460" stop-color="#dbe5c2"/><stop offset="0.9497" stop-color="#d7e2c2"/><stop offset="0.9535" stop-color="#d6e1c2"/><stop offset="0.9572" stop-color="#dfe8c2"/><stop offset="0.9609" stop-color="#e0e8c2"/><stop offset="0.9646" stop-color="#dde6c2"/><stop offset="0.9683" stop-color="#dee7c2"/><stop offset="0.9720" stop-color="#dfe8c2"/><stop offset="0.9757" stop-color="#d9e4c2"/><stop offset="0.9794" stop-color="#dde6c2"/><stop offset="0.9831" stop-color="#e6edc0"/><stop offset="0.9868" stop-color="#e6ecc0"/><stop offset="0.9906" stop-color="#e1e9c2"/><stop offset="0.9943" stop-color="#dfe8c2"/><stop offset="0.9980" stop-color="#dde6c2"/></linearGradient>
<linearGradient id="g3" gradientUnits="userSpaceOnUse" x1="0" y1="27.0" x2="0" y2="323.2"><stop offset="0.0000" stop-color="#d5402e"/><stop offset="0.0037" stop-color="#d5402e"/><stop offset="0.0074" stop-color="#d5402e"/><stop offset="0.0111" stop-color="#c5d5c2"/><stop offset="0.0149" stop-color="#c9d8c2"/><stop offset="0.0186" stop-color="#c4d4c2"/><stop offset="0.0223" stop-color="#d3dfc2"/><stop offset="0.0260" stop-color="#c6d5c2"/><stop offset="0.0297" stop-color="#cedbc2"/><stop offset="0.0334" stop-color="#c4d4c2"/><stop offset="0.0371" stop-color="#ccd9c2"/><stop offset="0.0409" stop-color="#becfc2"/><stop offset="0.0446" stop-color="#c5d5c2"/><stop offset="0.0483" stop-color="#c6d5c2"/><stop offset="0.0520" stop-color="#c6d5c2"/><stop offset="0.0557" stop-color="#c1d1c2"/><stop offset="0.0594" stop-color="#c1d1c2"/><stop offset="0.0631" stop-color="#b7c9c3"/><stop offset="0.0668" stop-color="#a6bbc5"/><stop offset="0.0706" stop-color="#aec2c4"/><stop offset="0.0743" stop-color="#b6c9c3"/><stop offset="0.0780" stop-color="#b2c5c4"/><stop offset="0.0817" stop-color="#adc1c4"/><stop offset="0.0854" stop-color="#aabfc4"/><stop offset="0.0891" stop-color="#b6c9c3"/><stop offset="0.0928" stop-color="#a5bbc5"/><stop offset="0.0966" stop-color="#aabfc4"/><stop offset="0.1003" stop-color="#9db5c5"/><stop offset="0.1040" stop-color="#8ca8c6"/><stop offset="0.1077" stop-color="#aabfc4"/><stop offset="0.1114" stop-color="#c8d7c2"/><stop offset="0.1151" stop-color="#ccdac2"/><stop offset="0.1188" stop-color="#c9d7c2"/><stop offset="0.1226" stop-color="#d1dec2"/><stop offset="0.1263" stop-color="#d2dec2"/><stop offset="0.1300" stop-color="#b7c9c3"/><stop offset="0.1337" stop-color="#b5c8c3"/><stop offset="0.1374" stop-color="#a5bbc5"/><stop offset="0.1411" stop-color="#a5bbc5"/><stop offset="0.1448" stop-color="#a8bdc5"/><stop offset="0.1485" stop-color="#a1b8c5"/><stop offset="0.1523" stop-color="#9db4c5"/><stop offset="0.1560" stop-color="#a1b7c5"/><stop offset="0.1597" stop-color="#9eb5c5"/><stop offset="0.1634" stop-color="#8faac6"/><stop offset="0.1671" stop-color="#96afc6"/><stop offset="0.1708" stop-color="#92acc6"/><stop offset="0.1745" stop-color="#7a9bc6"/><stop offset="0.1783" stop-color="#86a3c6"/><stop offset="0.1820" stop-color="#7c9cc6"/><stop offset="0.1857" stop-color="#7c9cc6"/><stop offset="0.1894" stop-color="#85a3c6"/><stop offset="0.1931" stop-color="#8ba7c6"/><stop offset="0.1968" stop-color="#94adc6"/><stop offset="0.2005" stop-color="#7b9cc6"/><stop offset="0.2043" stop-color="#86a4c6"/><stop offset="0.2080" stop-color="#94aec6"/><stop offset="0.2117" stop-color="#8ea9c6"/><stop offset="0.2154" stop-color="#87a4c6"/><stop offset="0.2191" stop-color="#7f9ec6"/><stop offset="0.2228" stop-color="#87a4c6"/><stop offset="0.2265" stop-color="#7396c6"/><stop offset="0.2302" stop-color="#7a9bc6"/><stop offset="0.2340" stop-color="#7a9bc6"/><stop offset="0.2377" stop-color="#7497c6"/><stop offset="0.2414" stop-color="#7e9ec6"/><stop offset="0.2451" stop-color="#7497c6"/><stop offset="0.2488" stop-color="#7598c6"/><stop offset="0.2525" stop-color="#809fc6"/><stop offset="0.2562" stop-color="#7e9ec6"/><stop offset="0.2600" stop-color="#93adc6"/><stop offset="0.2637" stop-color="#9cb4c5"/><stop offset="0.2674" stop-color="#99b2c6"/><stop offset="0.2711" stop-color="#9bb3c6"/><stop offset="0.2748" stop-color="#7597c6"/><stop offset="0.2785" stop-color="#678fc5"/><stop offset="0.2822" stop-color="#608bc4"/><stop offset="0.2860" stop-color="#6990c5"/><stop offset="0.2897" stop-color="#668fc5"/><stop offset="0.2934" stop-color="#6990c5"/><stop offset="0.2971" stop-color="#7094c5"/><stop offset="0.3008" stop-color="#608bc4"/><stop offset="0.3045" stop-color="#7597c6"/><stop offset="0.3082" stop-color="#6f94c5"/><stop offset="0.3120" stop-color="#7195c6"/><stop offset="0.3157" stop-color="#6b91c5"/><stop offset="0.3194" stop-color="#6c92c5"/><stop offset="0.3231" stop-color="#6890c5"/><stop offset="0.3268" stop-color="#6890c5"/><stop offset="0.3305" stop-color="#5d89c4"/><stop offset="0.3342" stop-color="#5281c2"/><stop offset="0.3379" stop-color="#5080c2"/><stop offset="0.3417" stop-color="#5b88c4"/><stop offset="0.3454" stop-color="#7396c6"/><stop offset="0.3491" stop-color="#7095c6"/><stop offset="0.3528" stop-color="#84a2c6"/><stop offset="0.3565" stop-color="#8ba7c6"/><stop offset="0.3602" stop-color="#9db4c5"/><stop offset="0.3639" stop-color="#8ea9c6"/><stop offset="0.3677" stop-color="#6e93c5"/><stop offset="0.3714" stop-color="#6890c5"/><stop offset="0.3751" stop-color="#6d93c5"/><stop offset="0.3788" stop-color="#7396c6"/><stop offset="0.3825" stop-color="#658ec5"/><stop offset="0.3862" stop-color="#6790c5"/><stop offset="0.3899" stop-color="#7094c5"/><stop offset="0.3937" stop-color="#6b92c5"/><stop offset="0.3974" stop-color="#86a3c6"/><stop offset="0.4011" stop-color="#83a1c6"/><stop offset="0.4048" stop-color="#789ac6"/><stop offset="0.4085" stop-color="#85a3c6"/><stop offset="0.4122" stop-color="#83a1c6"/><stop offset="0.4159" stop-color="#9cb4c5"/><stop offset="0.4196" stop-color="#90abc6"/><stop offset="0.4234" stop-color="#6b91c5"/><stop offset="0.4271" stop-color="#5c89c4"/><stop offset="0.4308" stop-color="#5885c3"/><stop offset="0.4345" stop-color="#6e93c5"/><stop offset="0.4382" stop-color="#6f94c5"/><stop offset="0.4419" stop-color="#6c92c5"/><stop offset="0.4456" stop-color="#7f9fc6"/><stop offset="0.4494" stop-color="#6c92c5"/><stop offset="0.4531" stop-color="#83a1c6"/><stop offset="0.4568" stop-color="#7899c6"/><stop offset="0.4605" stop-color="#7c9cc6"/><stop offset="0.4642" stop-color="#6c92c5"/><stop offset="0.4679" stop-color="#82a0c6"/><stop offset="0.4716" stop-color="#7e9ec6"/><stop offset="0.4754" stop-color="#6d93c5"/><stop offset="0.4791" stop-color="#6f94c5"/><stop offset="0.4828" stop-color="#6e93c5"/><stop offset="0.4865" stop-color="#7698c6"/><stop offset="0.4902" stop-color="#7295c6"/><stop offset="0.4939" stop-color="#98b0c6"/><stop offset="0.4976" stop-color="#8faac6"/><stop offset="0.5014" stop-color="#82a1c6"/><stop offset="0.5051" stop-color="#7598c6"/><stop offset="0.5088" stop-color="#94aec6"/><stop offset="0.5125" stop-color="#8ea9c6"/><stop offset="0.5162" stop-color="#87a4c6"/><stop offset="0.5199" stop-color="#7497c6"/><stop offset="0.5236" stop-color="#7e9ec6"/><stop offset="0.5273" stop-color="#7195c6"/><stop offset="0.5311" stop-color="#7195c6"/><stop offset="0.5348" stop-color="#678fc5"/><stop offset="0.5385" stop-color="#638dc4"/><stop offset="0.5422" stop-color="#638dc4"/><stop offset="0.5459" stop-color="#628cc4"/><stop offset="0.5496" stop-color="#7497c6"/><stop offset="0.5533" stop-color="#658ec5"/><stop offset="0.5571" stop-color="#7296c6"/><stop offset="0.5608" stop-color="#648ec5"/><stop offset="0.5645" stop-color="#6d93c5"/><stop offset="0.5682" stop-color="#658ec5"/><stop offset="0.5719" stop-color="#668fc5"/><stop offset="0.5756" stop-color="#7799c6"/><stop offset="0.5793" stop-color="#90aac6"/><stop offset="0.5831" stop-color="#a0b7c5"/><stop offset="0.5868" stop-color="#85a3c6"/><stop offset="0.5905" stop-color="#6c92c5"/><stop offset="0.5942" stop-color="#618bc4"/><stop offset="0.5979" stop-color="#7296c6"/><stop offset="0.6016" stop-color="#94adc6"/><stop offset="0.6053" stop-color="#88a5c6"/><stop offset="0.6090" stop-color="#85a3c6"/><stop offset="0.6128" stop-color="#81a0c6"/><stop offset="0.6165" stop-color="#8da9c6"/><stop offset="0.6202" stop-color="#8ba7c6"/><stop offset="0.6239" stop-color="#7c9cc6"/><stop offset="0.6276" stop-color="#799ac6"/><stop offset="0.6313" stop-color="#7d9dc6"/><stop offset="0.6350" stop-color="#8faac6"/><stop offset="0.6388" stop-color="#83a1c6"/><stop offset="0.6425" stop-color="#5f8bc4"/><stop offset="0.6462" stop-color="#5b88c4"/><stop offset="0.6499" stop-color="#5c88c4"/><stop offset="0.6536" stop-color="#628cc4"/><stop offset="0.6573" stop-color="#638dc4"/><stop offset="0.6610" stop-color="#5b88c4"/><stop offset="0.6648" stop-color="#5c88c4"/><stop offset="0.6685" stop-color="#678fc5"/><stop offset="0.6722" stop-color="#83a1c6"/><stop offset="0.6759" stop-color="#7799c6"/><stop offset="0.6796" stop-color="#83a1c6"/><stop offset="0.6833" stop-color="#88a5c6"/><stop offset="0.6870" stop-color="#b0c4c4"/><stop offset="0.6907" stop-color="#afc3c4"/><stop offset="0.6945" stop-color="#becfc2"/><stop offset="0.6982" stop-color="#c0d0c2"/><stop offset="0.7019" stop-color="#bdcec2"/><stop offset="0.7056" stop-color="#c7d6c2"/><stop offset="0.7093" stop-color="#c2d2c2"/><stop offset="0.7130" stop-color="#a0b7c5"/><stop offset="0.7167" stop-color="#91acc6"/><stop offset="0.7205" stop-color="#8aa6c6"/><stop offset="0.7242" stop-color="#94aec6"/><stop offset="0.7279" stop-color="#98b1c6"/><stop offset="0.7316" stop-color="#82a1c6"/><stop offset="0.7353" stop-color="#85a2c6"/><stop offset="0.7390" stop-color="#88a5c6"/><stop offset="0.7427" stop-color="#7e9ec6"/><stop offset="0.7465" stop-color="#7b9bc6"/><stop offset="0.7502" stop-color="#87a4c6"/><stop offset="0.7539" stop-color="#93adc6"/><stop offset="0.7576" stop-color="#91abc6"/><stop offset="0.7613" stop-color="#809fc6"/><stop offset="0.7650" stop-color="#8ea9c6"/><stop offset="0.7687" stop-color="#90aac6"/><stop offset="0.7725" stop-color="#88a5c6"/><stop offset="0.7762" stop-color="#82a1c6"/><stop offset="0.7799" stop-color="#7d9dc6"/><stop offset="0.7836" stop-color="#8ca8c6"/><stop offset="0.7873" stop-color="#8ba7c6"/><stop offset="0.7910" stop-color="#7e9ec6"/><stop offset="0.7947" stop-color="#7c9cc6"/><stop offset="0.7984" stop-color="#7899c6"/><stop offset="0.8022" stop-color="#83a1c6"/><stop offset="0.8059" stop-color="#81a0c6"/><stop offset="0.8096" stop-color="#7698c6"/><stop offset="0.8133" stop-color="#799ac6"/><stop offset="0.8170" stop-color="#7c9cc6"/><stop offset="0.8207" stop-color="#7396c6"/><stop offset="0.8244" stop-color="#90abc6"/><stop offset="0.8282" stop-color="#95aec6"/><stop offset="0.8319" stop-color="#9eb5c5"/><stop offset="0.8356" stop-color="#8ca8c6"/><stop offset="0.8393" stop-color="#9db5c5"/><stop offset="0.8430" stop-color="#8ca8c6"/><stop offset="0.8467" stop-color="#98b1c6"/><stop offset="0.8504" stop-color="#9eb6c5"/><stop offset="0.8542" stop-color="#90abc6"/><stop offset="0.8579" stop-color="#a9bec4"/><stop offset="0.8616" stop-color="#a3bac5"/><stop offset="0.8653" stop-color="#aec2c4"/><stop offset="0.8690" stop-color="#aec2c4"/><stop offset="0.8727" stop-color="#b6c9c3"/><stop offset="0.8764" stop-color="#aec2c4"/><stop offset="0.8801" stop-color="#b5c8c3"/><stop offset="0.8839" stop-color="#b2c5c4"/><stop offset="0.8876" stop-color="#b6c9c3"/><stop offset="0.8913" stop-color="#b3c6c3"/><stop offset="0.8950" stop-color="#b1c4c4"/><stop offset="0.8987" stop-color="#baccc3"/><stop offset="0.9024" stop-color="#b1c4c4"/><stop offset="0.9061" stop-color="#baccc3"/><stop offset="0.9099" stop-color="#b2c5c4"/><stop offset="0.9136" stop-color="#baccc3"/><stop offset="0.9173" stop-color="#bdcec3"/><stop offset="0.9210" stop-color="#c0d1c2"/><stop offset="0.9247" stop-color="#b3c6c4"/><stop offset="0.9284" stop-color="#b2c5c4"/><stop offset="0.9321" stop-color="#b7c9c3"/><stop offset="0.9359" stop-color="#c1d1c2"/><stop offset="0.9396" stop-color="#b4c6c3"/><stop offset="0.9433" stop-color="#becec2"/><stop offset="0.9470" stop-color="#cddac2"/><stop offset="0.9507" stop-color="#cddac2"/><stop offset="0.9544" stop-color="#d1dec2"/><stop offset="0.9581" stop-color="#c2d2c2"/><stop offset="0.9619" stop-color="#c1d2c2"/><stop offset="0.9656" stop-color="#c6d5c2"/><stop offset="0.9693" stop-color="#c5d4c2"/><stop offset="0.9730" stop-color="#bdcec2"/><stop offset="0.9767" stop-color="#c3d2c2"/><stop offset="0.9804" stop-color="#bbccc3"/><stop offset="0.9841" stop-color="#bdcec3"/><stop offset="0.9878" stop-color="#afc3c4"/><stop offset="0.9916" stop-color="#b4c7c3"/><stop offset="0.9953" stop-color="#bbccc3"/><stop offset="0.9990" stop-color="#b9cbc3"/></linearGradient>
<linearGradient id="g4" gradientUnits="userSpaceOnUse" x1="0" y1="27.5" x2="0" y2="323.4"><stop offset="0.0000" stop-color="#97b0c6"/><stop offset="0.0037" stop-color="#9ab2c6"/><stop offset="0.0074" stop-color="#a0b7c5"/><stop offset="0.0112" stop-color="#a6bcc5"/><stop offset="0.0149" stop-color="#a9bec4"/><stop offset="0.0186" stop-color="#bbccc3"/><stop offset="0.0223" stop-color="#bdcec2"/><stop offset="0.0260" stop-color="#cddbc2"/><stop offset="0.0297" stop-color="#d2dec2"/><stop offset="0.0335" stop-color="#e5ecc1"/><stop offset="0.0372" stop-color="#dee7c2"/><stop offset="0.0409" stop-color="#c3d3c2"/><stop offset="0.0446" stop-color="#c3d2c2"/><stop offset="0.0483" stop-color="#c1d1c2"/><stop offset="0.0520" stop-color="#b0c4c4"/><stop offset="0.0558" stop-color="#a1b7c5"/><stop offset="0.0595" stop-color="#8aa7c6"/><stop offset="0.0632" stop-color="#95aec6"/><stop offset="0.0669" stop-color="#b6c8c3"/><stop offset="0.0706" stop-color="#acc0c4"/><stop offset="0.0743" stop-color="#9eb5c5"/><stop offset="0.0781" stop-color="#8ba7c6"/><stop offset="0.0818" stop-color="#7396c6"/><stop offset="0.0855" stop-color="#b2c5c4"/><stop offset="0.0892" stop-color="#bdcec3"/><stop offset="0.0929" stop-color="#bdcec3"/><stop offset="0.0967" stop-color="#b8cac3"/><stop offset="0.1004" stop-color="#afc3c4"/><stop offset="0.1041" stop-color="#b6c9c3"/><stop offset="0.1078" stop-color="#b4c7c3"/><stop offset="0.1115" stop-color="#a1b8c5"/><stop offset="0.1152" stop-color="#8da9c6"/><stop offset="0.1190" stop-color="#9db5c5"/><stop offset="0.1227" stop-color="#a1b7c5"/><stop offset="0.1264" stop-color="#88a5c6"/><stop offset="0.1301" stop-color="#9bb3c6"/><stop offset="0.1338" stop-color="#acc1c4"/><stop offset="0.1375" stop-color="#b1c4c4"/><stop offset="0.1413" stop-color="#a8bdc5"/><stop offset="0.1450" stop-color="#b3c6c3"/><stop offset="0.1487" stop-color="#b6c9c3"/><stop offset="0.1524" stop-color="#b2c6c4"/><stop offset="0.1561" stop-color="#bbccc3"/><stop offset="0.1599" stop-color="#b3c6c4"/><stop offset="0.1636" stop-color="#a4bac5"/><stop offset="0.1673" stop-color="#91acc6"/><stop offset="0.1710" stop-color="#7296c6"/><stop offset="0.1747" stop-color="#799ac6"/><stop offset="0.1784" stop-color="#94adc6"/><stop offset="0.1822" stop-color="#9db5c5"/><stop offset="0.1859" stop-color="#a0b7c5"/><stop offset="0.1896" stop-color="#99b1c6"/><stop offset="0.1933" stop-color="#7e9ec6"/><stop offset="0.1970" stop-color="#7095c6"/><stop offset="0.2007" stop-color="#668fc5"/><stop offset="0.2045" stop-color="#638dc4"/><stop offset="0.2082" stop-color="#6d93c5"/><stop offset="0.2119" stop-color="#87a4c6"/><stop offset="0.2156" stop-color="#b1c5c4"/><stop offset="0.2193" stop-color="#a5bbc5"/><stop offset="0.2230" stop-color="#87a4c6"/><stop offset="0.2268" stop-color="#678fc5"/><stop offset="0.2305" stop-color="#7396c6"/><stop offset="0.2342" stop-color="#8faac6"/><stop offset="0.2379" stop-color="#8aa7c6"/><stop offset="0.2416" stop-color="#93adc6"/><stop offset="0.2454" stop-color="#9fb6c5"/><stop offset="0.2491" stop-color="#99b2c6"/><stop offset="0.2528" stop-color="#a1b7c5"/><stop offset="0.2565" stop-color="#8da9c6"/><stop offset="0.2602" stop-color="#7b9cc6"/><stop offset="0.2639" stop-color="#648ec5"/><stop offset="0.2677" stop-color="#5d8ac4"/><stop offset="0.2714" stop-color="#7396c6"/><stop offset="0.2751" stop-color="#88a5c6"/><stop offset="0.2788" stop-color="#7b9cc6"/><stop offset="0.2825" stop-color="#7a9bc6"/><stop offset="0.2862" stop-color="#94adc6"/><stop offset="0.2900" stop-color="#7b9cc6"/><stop offset="0.2937" stop-color="#7d9dc6"/><stop offset="0.2974" stop-color="#7899c6"/><stop offset="0.3011" stop-color="#6a91c5"/><stop offset="0.3048" stop-color="#6f94c5"/><stop offset="0.3086" stop-color="#88a5c6"/><stop offset="0.3123" stop-color="#96afc6"/><stop offset="0.3160" stop-color="#9cb4c5"/><stop offset="0.3197" stop-color="#83a1c6"/><stop offset="0.3234" stop-color="#7396c6"/><stop offset="0.3271" stop-color="#799ac6"/><stop offset="0.3309" stop-color="#7a9bc6"/><stop offset="0.3346" stop-color="#6c92c5"/><stop offset="0.3383" stop-color="#6e93c5"/><stop offset="0.3420" stop-color="#6e93c5"/><stop offset="0.3457" stop-color="#7c9dc6"/><stop offset="0.3494" stop-color="#7c9cc6"/><stop offset="0.3532" stop-color="#90abc6"/><stop offset="0.3569" stop-color="#9cb4c6"/><stop offset="0.3606" stop-color="#7c9cc6"/><stop offset="0.3643" stop-color="#7e9dc6"/><stop offset="0.3680" stop-color="#84a2c6"/><stop offset="0.3717" stop-color="#7899c6"/><stop offset="0.3755" stop-color="#82a0c6"/><stop offset="0.3792" stop-color="#86a3c6"/><stop offset="0.3829" stop-color="#7698c6"/><stop offset="0.3866" stop-color="#6f94c5"/><stop offset="0.3903" stop-color="#6c92c5"/><stop offset="0.3941" stop-color="#678fc5"/><stop offset="0.3978" stop-color="#7296c6"/><stop offset="0.4015" stop-color="#608bc4"/><stop offset="0.4052" stop-color="#6c92c5"/><stop offset="0.4089" stop-color="#648dc4"/><stop offset="0.4126" stop-color="#638dc4"/><stop offset="0.4164" stop-color="#7195c6"/><stop offset="0.4201" stop-color="#668ec5"/><stop offset="0.4238" stop-color="#6a91c5"/><stop offset="0.4275" stop-color="#81a0c6"/><stop offset="0.4312" stop-color="#9ab2c6"/><stop offset="0.4349" stop-color="#8da9c6"/><stop offset="0.4387" stop-color="#7a9bc6"/><stop offset="0.4424" stop-color="#6890c5"/><stop offset="0.4461" stop-color="#6b91c5"/><stop offset="0.4498" stop-color="#6f94c5"/><stop offset="0.4535" stop-color="#6991c5"/><stop offset="0.4572" stop-color="#6f94c5"/><stop offset="0.4610" stop-color="#6991c5"/><stop offset="0.4647" stop-color="#628cc4"/><stop offset="0.4684" stop-color="#7396c6"/><stop offset="0.4721" stop-color="#a3bac5"/><stop offset="0.4758" stop-color="#9ab2c6"/><stop offset="0.4796" stop-color="#7396c6"/><stop offset="0.4833" stop-color="#5987c3"/><stop offset="0.4870" stop-color="#5886c3"/><stop offset="0.4907" stop-color="#5886c3"/><stop offset="0.4944" stop-color="#7295c6"/><stop offset="0.4981" stop-color="#628cc4"/><stop offset="0.5019" stop-color="#6890c5"/><stop offset="0.5056" stop-color="#628cc4"/><stop offset="0.5093" stop-color="#678fc5"/><stop offset="0.5130" stop-color="#668fc5"/><stop offset="0.5167" stop-color="#6890c5"/><stop offset="0.5204" stop-color="#6f94c5"/><stop offset="0.5242" stop-color="#6b92c5"/><stop offset="0.5279" stop-color="#648ec5"/><stop offset="0.5316" stop-color="#7095c6"/><stop offset="0.5353" stop-color="#6f94c5"/><stop offset="0.5390" stop-color="#7195c6"/><stop offset="0.5428" stop-color="#608bc4"/><stop offset="0.5465" stop-color="#6c92c5"/><stop offset="0.5502" stop-color="#7396c6"/><stop offset="0.5539" stop-color="#658ec5"/><stop offset="0.5576" stop-color="#648dc4"/><stop offset="0.5613" stop-color="#7195c6"/><stop offset="0.5651" stop-color="#678fc5"/><stop offset="0.5688" stop-color="#6890c5"/><stop offset="0.5725" stop-color="#82a1c6"/><stop offset="0.5762" stop-color="#83a1c6"/><stop offset="0.5799" stop-color="#7d9dc6"/><stop offset="0.5836" stop-color="#7e9ec6"/><stop offset="0.5874" stop-color="#82a0c6"/><stop offset="0.5911" stop-color="#8ca8c6"/><stop offset="0.5948" stop-color="#7f9ec6"/><stop offset="0.5985" stop-color="#81a0c6"/><stop offset="0.6022" stop-color="#6d93c5"/><stop offset="0.6059" stop-color="#7195c6"/><stop offset="0.6097" stop-color="#7a9bc6"/><stop offset="0.6134" stop-color="#7698c6"/><stop offset="0.6171" stop-color="#83a1c6"/><stop offset="0.6208" stop-color="#9bb3c6"/><stop offset="0.6245" stop-color="#90aac6"/><stop offset="0.6283" stop-color="#8da8c6"/><stop offset="0.6320" stop-color="#89a5c6"/><stop offset="0.6357" stop-color="#95afc6"/><stop offset="0.6394" stop-color="#90abc6"/><stop offset="0.6431" stop-color="#88a5c6"/><stop offset="0.6468" stop-color="#5d8ac4"/><stop offset="0.6506" stop-color="#5886c3"/><stop offset="0.6543" stop-color="#6f94c5"/><stop offset="0.6580" stop-color="#b7c9c3"/><stop offset="0.6617" stop-color="#becfc2"/><stop offset="0.6654" stop-color="#c9d7c2"/><stop offset="0.6691" stop-color="#afc3c4"/><stop offset="0.6729" stop-color="#83a2c6"/><stop offset="0.6766" stop-color="#8ea9c6"/><stop offset="0.6803" stop-color="#82a0c6"/><stop offset="0.6840" stop-color="#93adc6"/><stop offset="0.6877" stop-color="#9db5c5"/><stop offset="0.6914" stop-color="#97b0c6"/><stop offset="0.6952" stop-color="#91abc6"/><stop offset="0.6989" stop-color="#8aa7c6"/><stop offset="0.7026" stop-color="#92acc6"/><stop offset="0.7063" stop-color="#7497c6"/><stop offset="0.7100" stop-color="#7396c6"/><stop offset="0.7138" stop-color="#7799c6"/><stop offset="0.7175" stop-color="#83a1c6"/><stop offset="0.7212" stop-color="#7b9cc6"/><stop offset="0.7249" stop-color="#96afc6"/><stop offset="0.7286" stop-color="#b4c7c3"/><stop offset="0.7323" stop-color="#b5c7c3"/><stop offset="0.7361" stop-color="#b6c8c3"/><stop offset="0.7398" stop-color="#bbcdc3"/><stop offset="0.7435" stop-color="#b9cbc3"/><stop offset="0.7472" stop-color="#91acc6"/><stop offset="0.7509" stop-color="#5d89c4"/><stop offset="0.7546" stop-color="#7f9fc6"/><stop offset="0.7584" stop-color="#9cb4c5"/><stop offset="0.7621" stop-color="#a6bcc5"/><stop offset="0.7658" stop-color="#98b1c6"/><stop offset="0.7695" stop-color="#acc0c4"/><stop offset="0.7732" stop-color="#a6bcc5"/><stop offset="0.7770" stop-color="#9eb5c5"/><stop offset="0.7807" stop-color="#acc1c4"/><stop offset="0.7844" stop-color="#a8bec4"/><stop offset="0.7881" stop-color="#99b1c6"/><stop offset="0.7918" stop-color="#9db4c5"/><stop offset="0.7955" stop-color="#a2b8c5"/><stop offset="0.7993" stop-color="#b1c4c4"/><stop offset="0.8030" stop-color="#a6bcc5"/><stop offset="0.8067" stop-color="#a4bac5"/><stop offset="0.8104" stop-color="#aabfc4"/><stop offset="0.8141" stop-color="#a4bac5"/><stop offset="0.8178" stop-color="#acc0c4"/><stop offset="0.8216" stop-color="#b7c9c3"/><stop offset="0.8253" stop-color="#c1d1c2"/><stop offset="0.8290" stop-color="#bccdc3"/><stop offset="0.8327" stop-color="#9fb6c5"/><stop offset="0.8364" stop-color="#7f9ec6"/><stop offset="0.8401" stop-color="#a3b9c5"/><stop offset="0.8439" stop-color="#c5d5c2"/><stop offset="0.8476" stop-color="#d4e0c2"/><stop offset="0.8513" stop-color="#d6e2c2"/><stop offset="0.8550" stop-color="#ccdac2"/><stop offset="0.8587" stop-color="#b4c7c3"/><stop offset="0.8625" stop-color="#b2c5c4"/><stop offset="0.8662" stop-color="#abbfc4"/><stop offset="0.8699" stop-color="#a7bcc5"/><stop offset="0.8736" stop-color="#a5bbc5"/><stop offset="0.8773" stop-color="#acc1c4"/><stop offset="0.8810" stop-color="#89a6c6"/><stop offset="0.8848" stop-color="#97b0c6"/><stop offset="0.8885" stop-color="#b1c5c4"/><stop offset="0.8922" stop-color="#bfcfc2"/><stop offset="0.8959" stop-color="#c0d0c2"/><stop offset="0.8996" stop-color="#c1d1c2"/><stop offset="0.9033" stop-color="#c9d8c2"/><stop offset="0.9071" stop-color="#c5d4c2"/><stop offset="0.9108" stop-color="#c7d6c2"/><stop offset="0.9145" stop-color="#bacbc3"/><stop offset="0.9182" stop-color="#c6d5c2"/><stop offset="0.9219" stop-color="#d1dec2"/><stop offset="0.9257" stop-color="#dae4c2"/><stop offset="0.9294" stop-color="#dfe8c2"/><stop offset="0.9331" stop-color="#d4e0c2"/><stop offset="0.9368" stop-color="#bdcec2"/><stop offset="0.9405" stop-color="#9bb3c6"/><stop offset="0.9442" stop-color="#adc1c4"/><stop offset="0.9480" stop-color="#bdcec3"/><stop offset="0.9517" stop-color="#d5e1c2"/><stop offset="0.9554" stop-color="#d8e3c2"/><stop offset="0.9591" stop-color="#d3dfc2"/><stop offset="0.9628" stop-color="#cedbc2"/><stop offset="0.9665" stop-color="#b4c6c3"/><stop offset="0.9703" stop-color="#9eb5c5"/><stop offset="0.9740" stop-color="#c1d1c2"/><stop offset="0.9777" stop-color="#dde7c2"/><stop offset="0.9814" stop-color="#e1e9c2"/><stop offset="0.9851" stop-color="#dfe8c2"/><stop offset="0.9888" stop-color="#e0e9c2"/><stop offset="0.9926" stop-color="#e7edc0"/><stop offset="0.9963" stop-color="#e1e9c2"/><stop offset="1.0000" stop-color="#e0e8c2"/></linearGradient>
<linearGradient id="g5" gradientUnits="userSpaceOnUse" x1="0" y1="27.1" x2="0" y2="322.8"><stop offset="0.0000" stop-color="#b1c4c4"/><stop offset="0.0037" stop-color="#acc1c4"/><stop offset="0.0074" stop-color="#b2c5c4"/><stop offset="0.0112" stop-color="#a5bbc5"/><stop offset="0.0149" stop-color="#b6c8c3"/><stop offset="0.0186" stop-color="#bccdc3"/><stop offset="0.0223" stop-color="#c4d3c2"/><stop offset="0.0260" stop-color="#bccdc3"/><stop offset="0.0298" stop-color="#bfd0c2"/><stop offset="0.0335" stop-color="#d4e0c2"/><stop offset="0.0372" stop-color="#e0e8c2"/><stop offset="0.0409" stop-color="#dce6c2"/><stop offset="0.0446" stop-color="#c5d4c2"/><stop offset="0.0484" stop-color="#b6c9c3"/><stop offset="0.0521" stop-color="#afc3c4"/><stop offset="0.0558" stop-color="#a8bdc4"/><stop offset="0.0595" stop-color="#a2b9c5"/><stop offset="0.0632" stop-color="#97afc6"/><stop offset="0.0670" stop-color="#8ca8c6"/><stop offset="0.0707" stop-color="#97afc6"/><stop offset="0.0744" stop-color="#88a5c6"/><stop offset="0.0781" stop-color="#92acc6"/><stop offset="0.0818" stop-color="#9cb3c6"/><stop offset="0.0856" stop-color="#adc1c4"/><stop offset="0.0893" stop-color="#b6c9c3"/><stop offset="0.0930" stop-color="#b0c4c4"/><stop offset="0.0967" stop-color="#adc1c4"/><stop offset="0.1004" stop-color="#c2d2c2"/><stop offset="0.1042" stop-color="#becec2"/><stop offset="0.1079" stop-color="#c6d5c2"/><stop offset="0.1116" stop-color="#bdcec2"/><stop offset="0.1153" stop-color="#a5bbc5"/><stop offset="0.1190" stop-color="#afc3c4"/><stop offset="0.1228" stop-color="#96afc6"/><stop offset="0.1265" stop-color="#8da8c6"/><stop offset="0.1302" stop-color="#95aec6"/><stop offset="0.1339" stop-color="#94adc6"/><stop offset="0.1376" stop-color="#7698c6"/><stop offset="0.1414" stop-color="#5b88c4"/><stop offset="0.1451" stop-color="#5d89c4"/><stop offset="0.1488" stop-color="#628cc4"/><stop offset="0.1525" stop-color="#6a91c5"/><stop offset="0.1562" stop-color="#86a3c6"/><stop offset="0.1600" stop-color="#8eaac6"/><stop offset="0.1637" stop-color="#96afc6"/><stop offset="0.1674" stop-color="#7598c6"/><stop offset="0.1711" stop-color="#8aa6c6"/><stop offset="0.1748" stop-color="#82a1c6"/><stop offset="0.1786" stop-color="#9eb5c5"/><stop offset="0.1823" stop-color="#94aec6"/><stop offset="0.1860" stop-color="#9fb6c5"/><stop offset="0.1897" stop-color="#9cb4c5"/><stop offset="0.1934" stop-color="#96afc6"/><stop offset="0.1972" stop-color="#789ac6"/><stop offset="0.2009" stop-color="#8da9c6"/><stop offset="0.2046" stop-color="#87a4c6"/><stop offset="0.2083" stop-color="#91abc6"/><stop offset="0.2120" stop-color="#9fb6c5"/><stop offset="0.2158" stop-color="#b5c8c3"/><stop offset="0.2195" stop-color="#abbfc4"/><stop offset="0.2232" stop-color="#94aec6"/><stop offset="0.2269" stop-color="#7094c5"/><stop offset="0.2306" stop-color="#6e94c5"/><stop offset="0.2344" stop-color="#7296c6"/><stop offset="0.2381" stop-color="#7094c5"/><stop offset="0.2418" stop-color="#638dc4"/><stop offset="0.2455" stop-color="#6c92c5"/><stop offset="0.2492" stop-color="#6b92c5"/><stop offset="0.2530" stop-color="#7095c6"/><stop offset="0.2567" stop-color="#628dc4"/><stop offset="0.2604" stop-color="#658ec5"/><stop offset="0.2641" stop-color="#7497c6"/><stop offset="0.2678" stop-color="#7d9dc6"/><stop offset="0.2716" stop-color="#799ac6"/><stop offset="0.2753" stop-color="#7d9dc6"/><stop offset="0.2790" stop-color="#82a1c6"/><stop offset="0.2827" stop-color="#89a5c6"/><stop offset="0.2864" stop-color="#9ab2c6"/><stop offset="0.2902" stop-color="#99b2c6"/><stop offset="0.2939" stop-color="#88a5c6"/><stop offset="0.2976" stop-color="#8aa6c6"/><stop offset="0.3013" stop-color="#89a5c6"/><stop offset="0.3050" stop-color="#7b9bc6"/><stop offset="0.3088" stop-color="#7094c5"/><stop offset="0.3125" stop-color="#7195c6"/><stop offset="0.3162" stop-color="#8da9c6"/><stop offset="0.3199" stop-color="#a4bac5"/><stop offset="0.3236" stop-color="#aabfc4"/><stop offset="0.3274" stop-color="#88a5c6"/><stop offset="0.3311" stop-color="#5886c3"/><stop offset="0.3348" stop-color="#5f8ac4"/><stop offset="0.3385" stop-color="#6890c5"/><stop offset="0.3422" stop-color="#5986c3"/><stop offset="0.3460" stop-color="#628cc4"/><stop offset="0.3497" stop-color="#7698c6"/><stop offset="0.3534" stop-color="#809fc6"/><stop offset="0.3571" stop-color="#8aa6c6"/><stop offset="0.3608" stop-color="#8ea9c6"/><stop offset="0.3646" stop-color="#7f9fc6"/><stop offset="0.3683" stop-color="#83a2c6"/><stop offset="0.3720" stop-color="#8aa6c6"/><stop offset="0.3757" stop-color="#91abc6"/><stop offset="0.3794" stop-color="#9bb3c6"/><stop offset="0.3832" stop-color="#a0b7c5"/><stop offset="0.3869" stop-color="#a7bcc5"/><stop offset="0.3906" stop-color="#a4bac5"/><stop offset="0.3943" stop-color="#a3b9c5"/><stop offset="0.3980" stop-color="#a7bcc5"/><stop offset="0.4018" stop-color="#9db5c5"/><stop offset="0.4055" stop-color="#88a5c6"/><stop offset="0.4092" stop-color="#7e9ec6"/><stop offset="0.4129" stop-color="#7095c6"/><stop offset="0.4166" stop-color="#799bc6"/><stop offset="0.4204" stop-color="#6d93c5"/><stop offset="0.4241" stop-color="#6f94c5"/><stop offset="0.4278" stop-color="#799ac6"/><stop offset="0.4315" stop-color="#7396c6"/><stop offset="0.4352" stop-color="#7497c6"/><stop offset="0.4390" stop-color="#6c92c5"/><stop offset="0.4427" stop-color="#7698c6"/><stop offset="0.4464" stop-color="#7598c6"/><stop offset="0.4501" stop-color="#7095c6"/><stop offset="0.4538" stop-color="#7a9bc6"/><stop offset="0.4576" stop-color="#7095c6"/><stop offset="0.4613" stop-color="#7396c6"/><stop offset="0.4650" stop-color="#6e93c5"/><stop offset="0.4687" stop-color="#81a0c6"/><stop offset="0.4724" stop-color="#7899c6"/><stop offset="0.4762" stop-color="#82a0c6"/><stop offset="0.4799" stop-color="#7396c6"/><stop offset="0.4836" stop-color="#7e9ec6"/><stop offset="0.4873" stop-color="#7b9bc6"/><stop offset="0.4910" stop-color="#6c92c5"/><stop offset="0.4948" stop-color="#82a1c6"/><stop offset="0.4985" stop-color="#7698c6"/><stop offset="0.5022" stop-color="#84a2c6"/><stop offset="0.5059" stop-color="#98b1c6"/><stop offset="0.5096" stop-color="#9db5c5"/><stop offset="0.5134" stop-color="#94aec6"/><stop offset="0.5171" stop-color="#6990c5"/><stop offset="0.5208" stop-color="#6890c5"/><stop offset="0.5245" stop-color="#6990c5"/><stop offset="0.5282" stop-color="#6e93c5"/><stop offset="0.5320" stop-color="#6c92c5"/><stop offset="0.5357" stop-color="#648ec5"/><stop offset="0.5394" stop-color="#6c92c5"/><stop offset="0.5431" stop-color="#7497c6"/><stop offset="0.5468" stop-color="#678fc5"/><stop offset="0.5506" stop-color="#7295c6"/><stop offset="0.5543" stop-color="#7195c6"/><stop offset="0.5580" stop-color="#6990c5"/><stop offset="0.5617" stop-color="#7497c6"/><stop offset="0.5654" stop-color="#628cc4"/><stop offset="0.5692" stop-color="#5d8ac4"/><stop offset="0.5729" stop-color="#5d89c4"/><stop offset="0.5766" stop-color="#5d8ac4"/><stop offset="0.5803" stop-color="#7295c6"/><stop offset="0.5840" stop-color="#82a0c6"/><stop offset="0.5878" stop-color="#86a3c6"/><stop offset="0.5915" stop-color="#89a5c6"/><stop offset="0.5952" stop-color="#91abc6"/><stop offset="0.5989" stop-color="#7597c6"/><stop offset="0.6026" stop-color="#6b91c5"/><stop offset="0.6064" stop-color="#5f8bc4"/><stop offset="0.6101" stop-color="#5f8bc4"/><stop offset="0.6138" stop-color="#6a91c5"/><stop offset="0.6175" stop-color="#658ec5"/><stop offset="0.6212" stop-color="#7597c6"/><stop offset="0.6250" stop-color="#7195c6"/><stop offset="0.6287" stop-color="#628cc4"/><stop offset="0.6324" stop-color="#608bc4"/><stop offset="0.6361" stop-color="#7195c6"/><stop offset="0.6398" stop-color="#7497c6"/><stop offset="0.6436" stop-color="#6f94c5"/><stop offset="0.6473" stop-color="#618cc4"/><stop offset="0.6510" stop-color="#7095c6"/><stop offset="0.6547" stop-color="#648ec5"/><stop offset="0.6584" stop-color="#668fc5"/><stop offset="0.6622" stop-color="#618cc4"/><stop offset="0.6659" stop-color="#628cc4"/><stop offset="0.6696" stop-color="#678fc5"/><stop offset="0.6733" stop-color="#5d89c4"/><stop offset="0.6770" stop-color="#5a87c3"/><stop offset="0.6808" stop-color="#5a87c3"/><stop offset="0.6845" stop-color="#5c89c4"/><stop offset="0.6882" stop-color="#658ec5"/><stop offset="0.6919" stop-color="#658ec5"/><stop offset="0.6956" stop-color="#5d89c4"/><stop offset="0.6994" stop-color="#5a87c3"/><stop offset="0.7031" stop-color="#5987c3"/><stop offset="0.7068" stop-color="#7698c6"/><stop offset="0.7105" stop-color="#9eb5c5"/><stop offset="0.7142" stop-color="#89a6c6"/><stop offset="0.7180" stop-color="#99b1c6"/><stop offset="0.7217" stop-color="#b2c5c4"/><stop offset="0.7254" stop-color="#c3d2c2"/><stop offset="0.7291" stop-color="#c6d5c2"/><stop offset="0.7328" stop-color="#a9bec4"/><stop offset="0.7366" stop-color="#95aec6"/><stop offset="0.7403" stop-color="#9ab2c6"/><stop offset="0.7440" stop-color="#8ca8c6"/><stop offset="0.7477" stop-color="#96afc6"/><stop offset="0.7514" stop-color="#a9bec4"/><stop offset="0.7552" stop-color="#b4c7c3"/><stop offset="0.7589" stop-color="#9db4c5"/><stop offset="0.7626" stop-color="#86a4c6"/><stop offset="0.7663" stop-color="#7799c6"/><stop offset="0.7700" stop-color="#7195c6"/><stop offset="0.7738" stop-color="#83a1c6"/><stop offset="0.7775" stop-color="#7d9dc6"/><stop offset="0.7812" stop-color="#7698c6"/><stop offset="0.7849" stop-color="#a1b7c5"/><stop offset="0.7886" stop-color="#9cb4c6"/><stop offset="0.7924" stop-color="#8aa6c6"/><stop offset="0.7961" stop-color="#9cb4c6"/><stop offset="0.7998" stop-color="#9eb5c5"/><stop offset="0.8035" stop-color="#86a3c6"/><stop offset="0.8072" stop-color="#89a6c6"/><stop offset="0.8110" stop-color="#7b9cc6"/><stop offset="0.8147" stop-color="#809fc6"/><stop offset="0.8184" stop-color="#7d9dc6"/><stop offset="0.8221" stop-color="#7d9dc6"/><stop offset="0.8258" stop-color="#809fc6"/><stop offset="0.8296" stop-color="#7598c6"/><stop offset="0.8333" stop-color="#799ac6"/><stop offset="0.8370" stop-color="#7b9cc6"/><stop offset="0.8407" stop-color="#84a2c6"/><stop offset="0.8444" stop-color="#84a2c6"/><stop offset="0.8482" stop-color="#6c92c5"/><stop offset="0.8519" stop-color="#93adc6"/><stop offset="0.8556" stop-color="#90aac6"/><stop offset="0.8593" stop-color="#93adc6"/><stop offset="0.8630" stop-color="#a0b7c5"/><stop offset="0.8668" stop-color="#8ca8c6"/><stop offset="0.8705" stop-color="#a0b7c5"/><stop offset="0.8742" stop-color="#99b1c6"/><stop offset="0.8779" stop-color="#baccc3"/><stop offset="0.8816" stop-color="#b5c7c3"/><stop offset="0.8854" stop-color="#a7bdc5"/><stop offset="0.8891" stop-color="#789ac6"/><stop offset="0.8928" stop-color="#8faac6"/><stop offset="0.8965" stop-color="#8faac6"/><stop offset="0.9002" stop-color="#809fc6"/><stop offset="0.9040" stop-color="#7698c6"/><stop offset="0.9077" stop-color="#5e8ac4"/><stop offset="0.9114" stop-color="#658ec5"/><stop offset="0.9151" stop-color="#6890c5"/><stop offset="0.9188" stop-color="#93adc6"/><stop offset="0.9226" stop-color="#81a0c6"/><stop offset="0.9263" stop-color="#7c9cc6"/><stop offset="0.9300" stop-color="#799ac6"/><stop offset="0.9337" stop-color="#92acc6"/><stop offset="0.9374" stop-color="#82a1c6"/><stop offset="0.9412" stop-color="#7c9cc6"/><stop offset="0.9449" stop-color="#91abc6"/><stop offset="0.9486" stop-color="#86a3c6"/><stop offset="0.9523" stop-color="#8da9c6"/><stop offset="0.9560" stop-color="#98b1c6"/><stop offset="0.9598" stop-color="#85a3c6"/><stop offset="0.9635" stop-color="#92acc6"/><stop offset="0.9672" stop-color="#799ac6"/><stop offset="0.9709" stop-color="#86a4c6"/><stop offset="0.9746" stop-color="#a4bac5"/><stop offset="0.9784" stop-color="#c3d3c2"/><stop offset="0.9821" stop-color="#c8d6c2"/><stop offset="0.9858" stop-color="#9fb6c5"/><stop offset="0.9895" stop-color="#809fc6"/><stop offset="0.9932" stop-color="#809fc6"/><stop offset="0.9970" stop-color="#809fc6"/></linearGradient>
<linearGradient id="g6" gradientUnits="userSpaceOnUse" x1="0" y1="27.5" x2="0" y2="311.2"><stop offset="0.0000" stop-color="#7195c6"/><stop offset="0.0039" stop-color="#7698c6"/><stop offset="0.0078" stop-color="#5f8ac4"/><stop offset="0.0116" stop-color="#5c89c4"/><stop offset="0.0155" stop-color="#6890c5"/><stop offset="0.0194" stop-color="#88a5c6"/><stop offset="0.0233" stop-color="#90abc6"/><stop offset="0.0271" stop-color="#8ba7c6"/><stop offset="0.0310" stop-color="#91abc6"/><stop offset="0.0349" stop-color="#9bb3c6"/><stop offset="0.0388" stop-color="#89a5c6"/><stop offset="0.0427" stop-color="#99b1c6"/><stop offset="0.0465" stop-color="#8ba7c6"/><stop offset="0.0504" stop-color="#9cb4c5"/><stop offset="0.0543" stop-color="#9bb3c6"/><stop offset="0.0582" stop-color="#87a4c6"/><stop offset="0.0620" stop-color="#86a4c6"/><stop offset="0.0659" stop-color="#7c9cc6"/><stop offset="0.0698" stop-color="#668ec5"/><stop offset="0.0737" stop-color="#5a87c3"/><stop offset="0.0775" stop-color="#5a87c3"/><stop offset="0.0814" stop-color="#5c89c4"/><stop offset="0.0853" stop-color="#638dc4"/><stop offset="0.0892" stop-color="#8faac6"/><stop offset="0.0931" stop-color="#9cb4c6"/><stop offset="0.0969" stop-color="#a0b7c5"/><stop offset="0.1008" stop-color="#8aa7c6"/><stop offset="0.1047" stop-color="#8aa7c6"/><stop offset="0.1086" stop-color="#9bb3c6"/><stop offset="0.1124" stop-color="#91abc6"/><stop offset="0.1163" stop-color="#98b1c6"/><stop offset="0.1202" stop-color="#aabfc4"/><stop offset="0.1241" stop-color="#a7bdc5"/><stop offset="0.1280" stop-color="#a5bbc5"/><stop offset="0.1318" stop-color="#acc1c4"/><stop offset="0.1357" stop-color="#b0c4c4"/><stop offset="0.1396" stop-color="#b4c6c3"/><stop offset="0.1435" stop-color="#b1c4c4"/><stop offset="0.1473" stop-color="#b0c3c4"/><stop offset="0.1512" stop-color="#a4bac5"/><stop offset="0.1551" stop-color="#b5c8c3"/><stop offset="0.1590" stop-color="#b5c8c3"/><stop offset="0.1628" stop-color="#abbfc4"/><stop offset="0.1667" stop-color="#a2b9c5"/><stop offset="0.1706" stop-color="#7899c6"/><stop offset="0.1745" stop-color="#86a3c6"/><stop offset="0.1784" stop-color="#8aa6c6"/><stop offset="0.1822" stop-color="#809fc6"/><stop offset="0.1861" stop-color="#84a2c6"/><stop offset="0.1900" stop-color="#90aac6"/><stop offset="0.1939" stop-color="#7c9cc6"/><stop offset="0.1977" stop-color="#85a3c6"/><stop offset="0.2016" stop-color="#7a9bc6"/><stop offset="0.2055" stop-color="#83a1c6"/><stop offset="0.2094" stop-color="#91abc6"/><stop offset="0.2133" stop-color="#7195c6"/><stop offset="0.2171" stop-color="#5181c2"/><stop offset="0.2210" stop-color="#5c88c4"/><stop offset="0.2249" stop-color="#7296c6"/><stop offset="0.2288" stop-color="#87a4c6"/><stop offset="0.2326" stop-color="#809fc6"/><stop offset="0.2365" stop-color="#809fc6"/><stop offset="0.2404" stop-color="#7d9dc6"/><stop offset="0.2443" stop-color="#9bb3c6"/><stop offset="0.2481" stop-color="#a4bac5"/><stop offset="0.2520" stop-color="#a4bac5"/><stop offset="0.2559" stop-color="#6d93c5"/><stop offset="0.2598" stop-color="#7a9bc6"/><stop offset="0.2637" stop-color="#7396c6"/><stop offset="0.2675" stop-color="#658ec5"/><stop offset="0.2714" stop-color="#5b88c4"/><stop offset="0.2753" stop-color="#5d89c4"/><stop offset="0.2792" stop-color="#5c88c4"/><stop offset="0.2830" stop-color="#6890c5"/><stop offset="0.2869" stop-color="#6890c5"/><stop offset="0.2908" stop-color="#7d9dc6"/><stop offset="0.2947" stop-color="#8ba7c6"/><stop offset="0.2986" stop-color="#86a3c6"/><stop offset="0.3024" stop-color="#7c9cc6"/><stop offset="0.3063" stop-color="#789ac6"/><stop offset="0.3102" stop-color="#94adc6"/><stop offset="0.3141" stop-color="#90abc6"/><stop offset="0.3179" stop-color="#7a9bc6"/><stop offset="0.3218" stop-color="#89a6c6"/><stop offset="0.3257" stop-color="#8ea9c6"/><stop offset="0.3296" stop-color="#bbccc3"/><stop offset="0.3335" stop-color="#c4d4c2"/><stop offset="0.3373" stop-color="#c5d4c2"/><stop offset="0.3412" stop-color="#becfc2"/><stop offset="0.3451" stop-color="#9bb3c6"/><stop offset="0.3490" stop-color="#7a9bc6"/><stop offset="0.3528" stop-color="#8ca8c6"/><stop offset="0.3567" stop-color="#8da9c6"/><stop offset="0.3606" stop-color="#7b9bc6"/><stop offset="0.3645" stop-color="#6d93c5"/><stop offset="0.3683" stop-color="#5d89c4"/><stop offset="0.3722" stop-color="#7497c6"/><stop offset="0.3761" stop-color="#799ac6"/><stop offset="0.3800" stop-color="#83a1c6"/><stop offset="0.3839" stop-color="#82a1c6"/><stop offset="0.3877" stop-color="#8ca8c6"/><stop offset="0.3916" stop-color="#91abc6"/><stop offset="0.3955" stop-color="#7a9bc6"/><stop offset="0.3994" stop-color="#89a5c6"/><stop offset="0.4032" stop-color="#90aac6"/><stop offset="0.4071" stop-color="#8ca7c6"/><stop offset="0.4110" stop-color="#7597c6"/><stop offset="0.4149" stop-color="#7396c6"/><stop offset="0.4188" stop-color="#81a0c6"/><stop offset="0.4226" stop-color="#7094c5"/><stop offset="0.4265" stop-color="#7698c6"/><stop offset="0.4304" stop-color="#608bc4"/><stop offset="0.4343" stop-color="#5e8ac4"/><stop offset="0.4381" stop-color="#628dc4"/><stop offset="0.4420" stop-color="#628cc4"/><stop offset="0.4459" stop-color="#608bc4"/><stop offset="0.4498" stop-color="#7a9bc6"/><stop offset="0.4536" stop-color="#99b1c6"/><stop offset="0.4575" stop-color="#9fb6c5"/><stop offset="0.4614" stop-color="#99b2c6"/><stop offset="0.4653" stop-color="#98b1c6"/><stop offset="0.4692" stop-color="#89a6c6"/><stop offset="0.4730" stop-color="#7b9cc6"/><stop offset="0.4769" stop-color="#5b88c4"/><stop offset="0.4808" stop-color="#5b88c4"/><stop offset="0.4847" stop-color="#5886c3"/><stop offset="0.4885" stop-color="#6f94c5"/><stop offset="0.4924" stop-color="#82a1c6"/><stop offset="0.4963" stop-color="#8aa7c6"/><stop offset="0.5002" stop-color="#8faac6"/><stop offset="0.5041" stop-color="#93adc6"/><stop offset="0.5079" stop-color="#8faac6"/><stop offset="0.5118" stop-color="#a0b7c5"/><stop offset="0.5157" stop-color="#abc0c4"/><stop offset="0.5196" stop-color="#a4bac5"/><stop offset="0.5234" stop-color="#7b9bc6"/><stop offset="0.5273" stop-color="#5d89c4"/><stop offset="0.5312" stop-color="#5785c3"/><stop offset="0.5351" stop-color="#5c89c4"/><stop offset="0.5389" stop-color="#5886c3"/><stop offset="0.5428" stop-color="#5684c3"/><stop offset="0.5467" stop-color="#809fc6"/><stop offset="0.5506" stop-color="#89a6c6"/><stop offset="0.5545" stop-color="#8faac6"/><stop offset="0.5583" stop-color="#92acc6"/><stop offset="0.5622" stop-color="#7a9bc6"/><stop offset="0.5661" stop-color="#88a5c6"/><stop offset="0.5700" stop-color="#83a1c6"/><stop offset="0.5738" stop-color="#7e9ec6"/><stop offset="0.5777" stop-color="#83a2c6"/><stop offset="0.5816" stop-color="#8da9c6"/><stop offset="0.5855" stop-color="#8ba7c6"/><stop offset="0.5894" stop-color="#89a5c6"/><stop offset="0.5932" stop-color="#8ea9c6"/><stop offset="0.5971" stop-color="#83a2c6"/><stop offset="0.6010" stop-color="#88a5c6"/><stop offset="0.6049" stop-color="#7a9bc6"/><stop offset="0.6087" stop-color="#8ba7c6"/><stop offset="0.6126" stop-color="#8ba7c6"/><stop offset="0.6165" stop-color="#8aa6c6"/><stop offset="0.6204" stop-color="#92acc6"/><stop offset="0.6243" stop-color="#9eb5c5"/><stop offset="0.6281" stop-color="#9bb3c6"/><stop offset="0.6320" stop-color="#a0b7c5"/><stop offset="0.6359" stop-color="#99b2c6"/><stop offset="0.6398" stop-color="#90aac6"/><stop offset="0.6436" stop-color="#9eb5c5"/><stop offset="0.6475" stop-color="#9ab2c6"/><stop offset="0.6514" stop-color="#7497c6"/><stop offset="0.6553" stop-color="#5a87c3"/><stop offset="0.6591" stop-color="#5f8bc4"/><stop offset="0.6630" stop-color="#5c89c4"/><stop offset="0.6669" stop-color="#789ac6"/><stop offset="0.6708" stop-color="#abc0c4"/><stop offset="0.6747" stop-color="#9fb6c5"/><stop offset="0.6785" stop-color="#98b0c6"/><stop offset="0.6824" stop-color="#97b0c6"/><stop offset="0.6863" stop-color="#99b2c6"/><stop offset="0.6902" stop-color="#9db5c5"/><stop offset="0.6940" stop-color="#a4bac5"/><stop offset="0.6979" stop-color="#c0d1c2"/><stop offset="0.7018" stop-color="#c8d7c2"/><stop offset="0.7057" stop-color="#cad8c2"/><stop offset="0.7096" stop-color="#cbd9c2"/><stop offset="0.7134" stop-color="#c6d5c2"/><stop offset="0.7173" stop-color="#becfc2"/><stop offset="0.7212" stop-color="#c8d7c2"/><stop offset="0.7251" stop-color="#c7d6c2"/><stop offset="0.7289" stop-color="#c8d7c2"/><stop offset="0.7328" stop-color="#bdcec2"/><stop offset="0.7367" stop-color="#cad8c2"/><stop offset="0.7406" stop-color="#c7d6c2"/><stop offset="0.7444" stop-color="#c4d4c2"/><stop offset="0.7483" stop-color="#d2dec2"/><stop offset="0.7522" stop-color="#c3d3c2"/><stop offset="0.7561" stop-color="#b7c9c3"/><stop offset="0.7600" stop-color="#bdcec3"/><stop offset="0.7638" stop-color="#becfc2"/><stop offset="0.7677" stop-color="#b7cac3"/><stop offset="0.7716" stop-color="#b1c4c4"/><stop offset="0.7755" stop-color="#bfd0c2"/><stop offset="0.7793" stop-color="#c0d0c2"/><stop offset="0.7832" stop-color="#cad8c2"/><stop offset="0.7871" stop-color="#c6d5c2"/><stop offset="0.7910" stop-color="#cbd9c2"/><stop offset="0.7949" stop-color="#d1dec2"/><stop offset="0.7987" stop-color="#d2dec2"/><stop offset="0.8026" stop-color="#c5d4c2"/><stop offset="0.8065" stop-color="#c5d4c2"/><stop offset="0.8104" stop-color="#d3dfc2"/><stop offset="0.8142" stop-color="#cbd9c2"/><stop offset="0.8181" stop-color="#cddbc2"/><stop offset="0.8220" stop-color="#c9d7c2"/><stop offset="0.8259" stop-color="#c0d1c2"/><stop offset="0.8297" stop-color="#c0d0c2"/><stop offset="0.8336" stop-color="#c8d7c2"/><stop offset="0.8375" stop-color="#c0d1c2"/><stop offset="0.8414" stop-color="#afc3c4"/><stop offset="0.8453" stop-color="#b0c3c4"/><stop offset="0.8491" stop-color="#becfc2"/><stop offset="0.8530" stop-color="#bacbc3"/><stop offset="0.8569" stop-color="#bccec3"/><stop offset="0.8608" stop-color="#c9d8c2"/><stop offset="0.8646" stop-color="#d7e2c2"/><stop offset="0.8685" stop-color="#d2dec2"/><stop offset="0.8724" stop-color="#bccdc3"/><stop offset="0.8763" stop-color="#abbfc4"/><stop offset="0.8802" stop-color="#aabec4"/><stop offset="0.8840" stop-color="#b6c8c3"/><stop offset="0.8879" stop-color="#c1d1c2"/><stop offset="0.8918" stop-color="#ccdac2"/><stop offset="0.8957" stop-color="#c4d3c2"/><stop offset="0.8995" stop-color="#d2dec2"/><stop offset="0.9034" stop-color="#d0ddc2"/><stop offset="0.9073" stop-color="#cddbc2"/><stop offset="0.9112" stop-color="#c8d6c2"/><stop offset="0.9151" stop-color="#bdcec3"/><stop offset="0.9189" stop-color="#baccc3"/><stop offset="0.9228" stop-color="#b5c8c3"/><stop offset="0.9267" stop-color="#baccc3"/><stop offset="0.9306" stop-color="#b7c9c3"/><stop offset="0.9344" stop-color="#b2c5c4"/><stop offset="0.9383" stop-color="#becfc2"/><stop offset="0.9422" stop-color="#cedbc2"/><stop offset="0.9461" stop-color="#d6e2c2"/><stop offset="0.9499" stop-color="#d2dec2"/><stop offset="0.9538" stop-color="#dae4c2"/><stop offset="0.9577" stop-color="#d9e4c2"/><stop offset="0.9616" stop-color="#d1ddc2"/><stop offset="0.9655" stop-color="#cedbc2"/><stop offset="0.9693" stop-color="#c7d6c2"/><stop offset="0.9732" stop-color="#aabec4"/><stop offset="0.9771" stop-color="#9fb6c5"/><stop offset="0.9810" stop-color="#a8bdc5"/><stop offset="0.9848" stop-color="#aabec4"/><stop offset="0.9887" stop-color="#9cb4c5"/><stop offset="0.9926" stop-color="#9cb4c6"/><stop offset="0.9965" stop-color="#a0b7c5"/></linearGradient>
<linearGradient id="g7" gradientUnits="userSpaceOnUse" x1="0" y1="27.2" x2="0" y2="288.7"><stop offset="0.0000" stop-color="#b7c9c3"/><stop offset="0.0042" stop-color="#a4bac5"/><stop offset="0.0084" stop-color="#b2c5c4"/><stop offset="0.0126" stop-color="#b8cac3"/><stop offset="0.0168" stop-color="#dae4c2"/><stop offset="0.0210" stop-color="#dae4c2"/><stop offset="0.0252" stop-color="#e0e9c2"/><stop offset="0.0294" stop-color="#c5d5c2"/><stop offset="0.0337" stop-color="#b7c9c3"/><stop offset="0.0379" stop-color="#acc1c4"/><stop offset="0.0421" stop-color="#a7bdc5"/><stop offset="0.0463" stop-color="#abbfc4"/><stop offset="0.0505" stop-color="#b0c4c4"/><stop offset="0.0547" stop-color="#a4bac5"/><stop offset="0.0589" stop-color="#acc0c4"/><stop offset="0.0631" stop-color="#a3bac5"/><stop offset="0.0673" stop-color="#a5bbc5"/><stop offset="0.0715" stop-color="#a7bcc5"/><stop offset="0.0757" stop-color="#a8bdc4"/><stop offset="0.0799" stop-color="#a9bec4"/><stop offset="0.0841" stop-color="#b3c6c3"/><stop offset="0.0883" stop-color="#b8cac3"/><stop offset="0.0925" stop-color="#dee7c2"/><stop offset="0.0967" stop-color="#e6edc0"/><stop offset="0.1010" stop-color="#e6edc0"/><stop offset="0.1052" stop-color="#dae4c2"/><stop offset="0.1094" stop-color="#c3d3c2"/><stop offset="0.1136" stop-color="#bbccc3"/><stop offset="0.1178" stop-color="#bfcfc2"/><stop offset="0.1220" stop-color="#b9cbc3"/><stop offset="0.1262" stop-color="#b0c3c4"/><stop offset="0.1304" stop-color="#b0c4c4"/><stop offset="0.1346" stop-color="#afc2c4"/><stop offset="0.1388" stop-color="#a7bdc5"/><stop offset="0.1430" stop-color="#a5bbc5"/><stop offset="0.1472" stop-color="#a7bdc5"/><stop offset="0.1514" stop-color="#a9bec4"/><stop offset="0.1556" stop-color="#9db4c5"/><stop offset="0.1598" stop-color="#99b2c6"/><stop offset="0.1641" stop-color="#94adc6"/><stop offset="0.1683" stop-color="#7c9cc6"/><stop offset="0.1725" stop-color="#5d8ac4"/><stop offset="0.1767" stop-color="#618cc4"/><stop offset="0.1809" stop-color="#5f8ac4"/><stop offset="0.1851" stop-color="#5d8ac4"/><stop offset="0.1893" stop-color="#5a87c3"/><stop offset="0.1935" stop-color="#5c89c4"/><stop offset="0.1977" stop-color="#6a91c5"/><stop offset="0.2019" stop-color="#6e93c5"/><stop offset="0.2061" stop-color="#799ac6"/><stop offset="0.2103" stop-color="#7296c6"/><stop offset="0.2145" stop-color="#7e9ec6"/><stop offset="0.2187" stop-color="#87a4c6"/><stop offset="0.2229" stop-color="#97b0c6"/><stop offset="0.2272" stop-color="#9bb3c6"/><stop offset="0.2314" stop-color="#9cb4c5"/><stop offset="0.2356" stop-color="#8ca8c6"/><stop offset="0.2398" stop-color="#a0b7c5"/><stop offset="0.2440" stop-color="#9eb5c5"/><stop offset="0.2482" stop-color="#9db4c5"/><stop offset="0.2524" stop-color="#95aec6"/><stop offset="0.2566" stop-color="#a0b7c5"/><stop offset="0.2608" stop-color="#9db4c5"/><stop offset="0.2650" stop-color="#8eaac6"/><stop offset="0.2692" stop-color="#9ab2c6"/><stop offset="0.2734" stop-color="#b2c5c4"/><stop offset="0.2776" stop-color="#bdcec3"/><stop offset="0.2818" stop-color="#b9cbc3"/><stop offset="0.2860" stop-color="#9eb5c5"/><stop offset="0.2902" stop-color="#9ab2c6"/><stop offset="0.2945" stop-color="#8aa6c6"/><stop offset="0.2987" stop-color="#9ab2c6"/><stop offset="0.3029" stop-color="#8ca8c6"/><stop offset="0.3071" stop-color="#9bb3c6"/><stop offset="0.3113" stop-color="#9fb6c5"/><stop offset="0.3155" stop-color="#7f9fc6"/><stop offset="0.3197" stop-color="#6d93c5"/><stop offset="0.3239" stop-color="#6c92c5"/><stop offset="0.3281" stop-color="#8aa6c6"/><stop offset="0.3323" stop-color="#8ca8c6"/><stop offset="0.3365" stop-color="#9bb3c6"/><stop offset="0.3407" stop-color="#98b1c6"/><stop offset="0.3449" stop-color="#96afc6"/><stop offset="0.3491" stop-color="#9ab2c6"/><stop offset="0.3533" stop-color="#8ca8c6"/><stop offset="0.3576" stop-color="#95aec6"/><stop offset="0.3618" stop-color="#89a6c6"/><stop offset="0.3660" stop-color="#97b0c6"/><stop offset="0.3702" stop-color="#9cb4c5"/><stop offset="0.3744" stop-color="#8ca8c6"/><stop offset="0.3786" stop-color="#9ab2c6"/><stop offset="0.3828" stop-color="#7e9ec6"/><stop offset="0.3870" stop-color="#5c88c4"/><stop offset="0.3912" stop-color="#5a87c3"/><stop offset="0.3954" stop-color="#628cc4"/><stop offset="0.3996" stop-color="#93adc6"/><stop offset="0.4038" stop-color="#8aa6c6"/><stop offset="0.4080" stop-color="#9cb4c6"/><stop offset="0.4122" stop-color="#8faac6"/><stop offset="0.4164" stop-color="#9cb3c6"/><stop offset="0.4207" stop-color="#9eb6c5"/><stop offset="0.4249" stop-color="#9eb5c5"/><stop offset="0.4291" stop-color="#8da9c6"/><stop offset="0.4333" stop-color="#97b0c6"/><stop offset="0.4375" stop-color="#91abc6"/><stop offset="0.4417" stop-color="#9eb5c5"/><stop offset="0.4459" stop-color="#90abc6"/><stop offset="0.4501" stop-color="#8ca8c6"/><stop offset="0.4543" stop-color="#93adc6"/><stop offset="0.4585" stop-color="#8aa6c6"/><stop offset="0.4627" stop-color="#88a5c6"/><stop offset="0.4669" stop-color="#82a1c6"/><stop offset="0.4711" stop-color="#7296c6"/><stop offset="0.4753" stop-color="#6f94c5"/><stop offset="0.4795" stop-color="#83a1c6"/><stop offset="0.4837" stop-color="#7195c6"/><stop offset="0.4880" stop-color="#7f9ec6"/><stop offset="0.4922" stop-color="#7b9cc6"/><stop offset="0.4964" stop-color="#7899c6"/><stop offset="0.5006" stop-color="#7094c5"/><stop offset="0.5048" stop-color="#658ec5"/><stop offset="0.5090" stop-color="#658ec5"/><stop offset="0.5132" stop-color="#7195c6"/><stop offset="0.5174" stop-color="#7f9fc6"/><stop offset="0.5216" stop-color="#8aa7c6"/><stop offset="0.5258" stop-color="#86a4c6"/><stop offset="0.5300" stop-color="#92acc6"/><stop offset="0.5342" stop-color="#7b9cc6"/><stop offset="0.5384" stop-color="#85a3c6"/><stop offset="0.5426" stop-color="#93adc6"/><stop offset="0.5468" stop-color="#7a9bc6"/><stop offset="0.5511" stop-color="#8da8c6"/><stop offset="0.5553" stop-color="#92acc6"/><stop offset="0.5595" stop-color="#89a6c6"/><stop offset="0.5637" stop-color="#799ac6"/><stop offset="0.5679" stop-color="#8ea9c6"/><stop offset="0.5721" stop-color="#7f9fc6"/><stop offset="0.5763" stop-color="#87a4c6"/><stop offset="0.5805" stop-color="#9fb6c5"/><stop offset="0.5847" stop-color="#aabfc4"/><stop offset="0.5889" stop-color="#a8bec4"/><stop offset="0.5931" stop-color="#9ab2c6"/><stop offset="0.5973" stop-color="#81a0c6"/><stop offset="0.6015" stop-color="#618cc4"/><stop offset="0.6057" stop-color="#6e93c5"/><stop offset="0.6099" stop-color="#7195c6"/><stop offset="0.6141" stop-color="#608bc4"/><stop offset="0.6184" stop-color="#6b91c5"/><stop offset="0.6226" stop-color="#7095c6"/><stop offset="0.6268" stop-color="#7095c6"/><stop offset="0.6310" stop-color="#658ec5"/><stop offset="0.6352" stop-color="#6b91c5"/><stop offset="0.6394" stop-color="#6e93c5"/><stop offset="0.6436" stop-color="#6a91c5"/><stop offset="0.6478" stop-color="#7597c6"/><stop offset="0.6520" stop-color="#7396c6"/><stop offset="0.6562" stop-color="#7497c6"/><stop offset="0.6604" stop-color="#628cc4"/><stop offset="0.6646" stop-color="#608bc4"/><stop offset="0.6688" stop-color="#6c92c5"/><stop offset="0.6730" stop-color="#6c92c5"/><stop offset="0.6772" stop-color="#86a3c6"/><stop offset="0.6815" stop-color="#9cb4c5"/><stop offset="0.6857" stop-color="#a8bdc4"/><stop offset="0.6899" stop-color="#a8bec4"/><stop offset="0.6941" stop-color="#85a3c6"/><stop offset="0.6983" stop-color="#6e93c5"/><stop offset="0.7025" stop-color="#7c9dc6"/><stop offset="0.7067" stop-color="#7497c6"/><stop offset="0.7109" stop-color="#6f94c5"/><stop offset="0.7151" stop-color="#83a1c6"/><stop offset="0.7193" stop-color="#7296c6"/><stop offset="0.7235" stop-color="#6d93c5"/><stop offset="0.7277" stop-color="#7497c6"/><stop offset="0.7319" stop-color="#7497c6"/><stop offset="0.7361" stop-color="#7497c6"/><stop offset="0.7403" stop-color="#7296c6"/><stop offset="0.7446" stop-color="#618cc4"/><stop offset="0.7488" stop-color="#6991c5"/><stop offset="0.7530" stop-color="#7396c6"/><stop offset="0.7572" stop-color="#6a91c5"/><stop offset="0.7614" stop-color="#7296c6"/><stop offset="0.7656" stop-color="#7b9cc6"/><stop offset="0.7698" stop-color="#95aec6"/><stop offset="0.7740" stop-color="#99b2c6"/><stop offset="0.7782" stop-color="#7e9ec6"/><stop offset="0.7824" stop-color="#8aa7c6"/><stop offset="0.7866" stop-color="#7295c6"/><stop offset="0.7908" stop-color="#7296c6"/><stop offset="0.7950" stop-color="#7698c6"/><stop offset="0.7992" stop-color="#7799c6"/><stop offset="0.8034" stop-color="#7e9ec6"/><stop offset="0.8076" stop-color="#7799c6"/><stop offset="0.8119" stop-color="#82a1c6"/><stop offset="0.8161" stop-color="#91acc6"/><stop offset="0.8203" stop-color="#a5bbc5"/><stop offset="0.8245" stop-color="#9db5c5"/><stop offset="0.8287" stop-color="#a5bbc5"/><stop offset="0.8329" stop-color="#98b1c6"/><stop offset="0.8371" stop-color="#7a9bc6"/><stop offset="0.8413" stop-color="#658ec5"/><stop offset="0.8455" stop-color="#7095c6"/><stop offset="0.8497" stop-color="#6f94c5"/><stop offset="0.8539" stop-color="#638dc4"/><stop offset="0.8581" stop-color="#7f9fc6"/><stop offset="0.8623" stop-color="#86a3c6"/><stop offset="0.8665" stop-color="#7899c6"/><stop offset="0.8707" stop-color="#668fc5"/><stop offset="0.8750" stop-color="#6890c5"/><stop offset="0.8792" stop-color="#7195c6"/><stop offset="0.8834" stop-color="#7396c6"/><stop offset="0.8876" stop-color="#6991c5"/><stop offset="0.8918" stop-color="#6b91c5"/><stop offset="0.8960" stop-color="#7396c6"/><stop offset="0.9002" stop-color="#8ea9c6"/><stop offset="0.9044" stop-color="#aabfc4"/><stop offset="0.9086" stop-color="#a0b7c5"/><stop offset="0.9128" stop-color="#98b0c6"/><stop offset="0.9170" stop-color="#9cb4c5"/><stop offset="0.9212" stop-color="#9eb5c5"/><stop offset="0.9254" stop-color="#a8bdc4"/><stop offset="0.9296" stop-color="#809fc6"/><stop offset="0.9338" stop-color="#6f94c5"/><stop offset="0.9380" stop-color="#82a0c6"/><stop offset="0.9423" stop-color="#7296c6"/><stop offset="0.9465" stop-color="#82a1c6"/><stop offset="0.9507" stop-color="#7095c6"/><stop offset="0.9549" stop-color="#84a2c6"/><stop offset="0.9591" stop-color="#8ea9c6"/><stop offset="0.9633" stop-color="#93adc6"/><stop offset="0.9675" stop-color="#97b0c6"/><stop offset="0.9717" stop-color="#94aec6"/><stop offset="0.9759" stop-color="#aabfc4"/><stop offset="0.9801" stop-color="#acc0c4"/><stop offset="0.9843" stop-color="#a3bac5"/><stop offset="0.9885" stop-color="#acc1c4"/><stop offset="0.9927" stop-color="#aabfc4"/><stop offset="0.9969" stop-color="#acc1c4"/></linearGradient>
</defs>
<g stroke="#8a8a8a" stroke-width="0.8" fill="none">
<line x1="22.4" y1="27.6" x2="22.4" y2="374"/>
<line x1="22.4" y1="28.00" x2="29.9" y2="28.00" stroke="#5a5a5a"/>
<line x1="22.4" y1="30.20" x2="24.099999999999998" y2="30.20" stroke="#555"/>
<line x1="22.4" y1="32.40" x2="24.099999999999998" y2="32.40" stroke="#555"/>
<line x1="22.4" y1="34.60" x2="24.099999999999998" y2="34.60" stroke="#555"/>
<line x1="22.4" y1="36.80" x2="24.099999999999998" y2="36.80" stroke="#555"/>
<line x1="22.4" y1="39.00" x2="26.9" y2="39.00" stroke="#b8b8b8"/>
<line x1="22.4" y1="41.20" x2="24.099999999999998" y2="41.20" stroke="#555"/>
<line x1="22.4" y1="43.40" x2="24.099999999999998" y2="43.40" stroke="#555"/>
<line x1="22.4" y1="45.60" x2="24.099999999999998" y2="45.60" stroke="#555"/>
<line x1="22.4" y1="47.80" x2="24.099999999999998" y2="47.80" stroke="#555"/>
<line x1="22.4" y1="50.00" x2="29.9" y2="50.00" stroke="#5a5a5a"/>
<line x1="22.4" y1="52.20" x2="24.099999999999998" y2="52.20" stroke="#555"/>
<line x1="22.4" y1="54.40" x2="24.099999999999998" y2="54.40" stroke="#555"/>
<line x1="22.4" y1="56.60" x2="24.099999999999998" y2="56.60" stroke="#555"/>
<line x1="22.4" y1="58.80" x2="24.099999999999998" y2="58.80" stroke="#555"/>
<line x1="22.4" y1="61.00" x2="26.9" y2="61.00" stroke="#b8b8b8"/>
<line x1="22.4" y1="63.20" x2="24.099999999999998" y2="63.20" stroke="#555"/>
<line x1="22.4" y1="65.40" x2="24.099999999999998" y2="65.40" stroke="#555"/>
<line x1="22.4" y1="67.60" x2="24.099999999999998" y2="67.60" stroke="#555"/>
<line x1="22.4" y1="69.80" x2="24.099999999999998" y2="69.80" stroke="#555"/>
<line x1="22.4" y1="72.00" x2="29.9" y2="72.00" stroke="#5a5a5a"/>
<line x1="22.4" y1="74.20" x2="24.099999999999998" y2="74.20" stroke="#555"/>
<line x1="22.4" y1="76.40" x2="24.099999999999998" y2="76.40" stroke="#555"/>
<line x1="22.4" y1="78.60" x2="24.099999999999998" y2="78.60" stroke="#555"/>
<line x1="22.4" y1="80.80" x2="24.099999999999998" y2="80.80" stroke="#555"/>
<line x1="22.4" y1="83.00" x2="26.9" y2="83.00" stroke="#b8b8b8"/>
<line x1="22.4" y1="85.20" x2="24.099999999999998" y2="85.20" stroke="#555"/>
<line x1="22.4" y1="87.40" x2="24.099999999999998" y2="87.40" stroke="#555"/>
<line x1="22.4" y1="89.60" x2="24.099999999999998" y2="89.60" stroke="#555"/>
<line x1="22.4" y1="91.80" x2="24.099999999999998" y2="91.80" stroke="#555"/>
<line x1="22.4" y1="94.00" x2="29.9" y2="94.00" stroke="#5a5a5a"/>
<line x1="22.4" y1="96.20" x2="24.099999999999998" y2="96.20" stroke="#555"/>
<line x1="22.4" y1="98.40" x2="24.099999999999998" y2="98.40" stroke="#555"/>
<line x1="22.4" y1="100.60" x2="24.099999999999998" y2="100.60" stroke="#555"/>
<line x1="22.4" y1="102.80" x2="24.099999999999998" y2="102.80" stroke="#555"/>
<line x1="22.4" y1="105.00" x2="26.9" y2="105.00" stroke="#b8b8b8"/>
<line x1="22.4" y1="107.20" x2="24.099999999999998" y2="107.20" stroke="#555"/>
<line x1="22.4" y1="109.40" x2="24.099999999999998" y2="109.40" stroke="#555"/>
<line x1="22.4" y1="111.60" x2="24.099999999999998" y2="111.60" stroke="#555"/>
<line x1="22.4" y1="113.80" x2="24.099999999999998" y2="113.80" stroke="#555"/>
<line x1="22.4" y1="116.00" x2="29.9" y2="116.00" stroke="#5a5a5a"/>
<line x1="22.4" y1="118.20" x2="24.099999999999998" y2="118.20" stroke="#555"/>
<line x1="22.4" y1="120.40" x2="24.099999999999998" y2="120.40" stroke="#555"/>
<line x1="22.4" y1="122.60" x2="24.099999999999998" y2="122.60" stroke="#555"/>
<line x1="22.4" y1="124.80" x2="24.099999999999998" y2="124.80" stroke="#555"/>
<line x1="22.4" y1="127.00" x2="26.9" y2="127.00" stroke="#b8b8b8"/>
<line x1="22.4" y1="129.20" x2="24.099999999999998" y2="129.20" stroke="#555"/>
<line x1="22.4" y1="131.40" x2="24.099999999999998" y2="131.40" stroke="#555"/>
<line x1="22.4" y1="133.60" x2="24.099999999999998" y2="133.60" stroke="#555"/>
<line x1="22.4" y1="135.80" x2="24.099999999999998" y2="135.80" stroke="#555"/>
<line x1="22.4" y1="138.00" x2="29.9" y2="138.00" stroke="#5a5a5a"/>
<line x1="22.4" y1="140.20" x2="24.099999999999998" y2="140.20" stroke="#555"/>
<line x1="22.4" y1="142.40" x2="24.099999999999998" y2="142.40" stroke="#555"/>
<line x1="22.4" y1="144.60" x2="24.099999999999998" y2="144.60" stroke="#555"/>
<line x1="22.4" y1="146.80" x2="24.099999999999998" y2="146.80" stroke="#555"/>
<line x1="22.4" y1="149.00" x2="26.9" y2="149.00" stroke="#b8b8b8"/>
<line x1="22.4" y1="151.20" x2="24.099999999999998" y2="151.20" stroke="#555"/>
<line x1="22.4" y1="153.40" x2="24.099999999999998" y2="153.40" stroke="#555"/>
<line x1="22.4" y1="155.60" x2="24.099999999999998" y2="155.60" stroke="#555"/>
<line x1="22.4" y1="157.80" x2="24.099999999999998" y2="157.80" stroke="#555"/>
<line x1="22.4" y1="160.00" x2="29.9" y2="160.00" stroke="#5a5a5a"/>
<line x1="22.4" y1="162.20" x2="24.099999999999998" y2="162.20" stroke="#555"/>
<line x1="22.4" y1="164.40" x2="24.099999999999998" y2="164.40" stroke="#555"/>
<line x1="22.4" y1="166.60" x2="24.099999999999998" y2="166.60" stroke="#555"/>
<line x1="22.4" y1="168.80" x2="24.099999999999998" y2="168.80" stroke="#555"/>
<line x1="22.4" y1="171.00" x2="26.9" y2="171.00" stroke="#b8b8b8"/>
<line x1="22.4" y1="173.20" x2="24.099999999999998" y2="173.20" stroke="#555"/>
<line x1="22.4" y1="175.40" x2="24.099999999999998" y2="175.40" stroke="#555"/>
<line x1="22.4" y1="177.60" x2="24.099999999999998" y2="177.60" stroke="#555"/>
<line x1="22.4" y1="179.80" x2="24.099999999999998" y2="179.80" stroke="#555"/>
<line x1="22.4" y1="182.00" x2="29.9" y2="182.00" stroke="#5a5a5a"/>
<line x1="22.4" y1="184.20" x2="24.099999999999998" y2="184.20" stroke="#555"/>
<line x1="22.4" y1="186.40" x2="24.099999999999998" y2="186.40" stroke="#555"/>
<line x1="22.4" y1="188.60" x2="24.099999999999998" y2="188.60" stroke="#555"/>
<line x1="22.4" y1="190.80" x2="24.099999999999998" y2="190.80" stroke="#555"/>
<line x1="22.4" y1="193.00" x2="26.9" y2="193.00" stroke="#b8b8b8"/>
<line x1="22.4" y1="195.20" x2="24.099999999999998" y2="195.20" stroke="#555"/>
<line x1="22.4" y1="197.40" x2="24.099999999999998" y2="197.40" stroke="#555"/>
<line x1="22.4" y1="199.60" x2="24.099999999999998" y2="199.60" stroke="#555"/>
<line x1="22.4" y1="201.80" x2="24.099999999999998" y2="201.80" stroke="#555"/>
<line x1="22.4" y1="204.00" x2="29.9" y2="204.00" stroke="#5a5a5a"/>
<line x1="22.4" y1="206.20" x2="24.099999999999998" y2="206.20" stroke="#555"/>
<line x1="22.4" y1="208.40" x2="24.099999999999998" y2="208.40" stroke="#555"/>
<line x1="22.4" y1="210.60" x2="24.099999999999998" y2="210.60" stroke="#555"/>
<line x1="22.4" y1="212.80" x2="24.099999999999998" y2="212.80" stroke="#555"/>
<line x1="22.4" y1="215.00" x2="26.9" y2="215.00" stroke="#b8b8b8"/>
<line x1="22.4" y1="217.20" x2="24.099999999999998" y2="217.20" stroke="#555"/>
<line x1="22.4" y1="219.40" x2="24.099999999999998" y2="219.40" stroke="#555"/>
<line x1="22.4" y1="221.60" x2="24.099999999999998" y2="221.60" stroke="#555"/>
<line x1="22.4" y1="223.80" x2="24.099999999999998" y2="223.80" stroke="#555"/>
<line x1="22.4" y1="226.00" x2="29.9" y2="226.00" stroke="#5a5a5a"/>
<line x1="22.4" y1="228.20" x2="24.099999999999998" y2="228.20" stroke="#555"/>
<line x1="22.4" y1="230.40" x2="24.099999999999998" y2="230.40" stroke="#555"/>
<line x1="22.4" y1="232.60" x2="24.099999999999998" y2="232.60" stroke="#555"/>
<line x1="22.4" y1="234.80" x2="24.099999999999998" y2="234.80" stroke="#555"/>
<line x1="22.4" y1="237.00" x2="26.9" y2="237.00" stroke="#b8b8b8"/>
<line x1="22.4" y1="239.20" x2="24.099999999999998" y2="239.20" stroke="#555"/>
<line x1="22.4" y1="241.40" x2="24.099999999999998" y2="241.40" stroke="#555"/>
<line x1="22.4" y1="243.60" x2="24.099999999999998" y2="243.60" stroke="#555"/>
<line x1="22.4" y1="245.80" x2="24.099999999999998" y2="245.80" stroke="#555"/>
<line x1="22.4" y1="248.00" x2="29.9" y2="248.00" stroke="#5a5a5a"/>
<line x1="22.4" y1="250.20" x2="24.099999999999998" y2="250.20" stroke="#555"/>
<line x1="22.4" y1="252.40" x2="24.099999999999998" y2="252.40" stroke="#555"/>
<line x1="22.4" y1="254.60" x2="24.099999999999998" y2="254.60" stroke="#555"/>
<line x1="22.4" y1="256.80" x2="24.099999999999998" y2="256.80" stroke="#555"/>
<line x1="22.4" y1="259.00" x2="26.9" y2="259.00" stroke="#b8b8b8"/>
<line x1="22.4" y1="261.20" x2="24.099999999999998" y2="261.20" stroke="#555"/>
<line x1="22.4" y1="263.40" x2="24.099999999999998" y2="263.40" stroke="#555"/>
<line x1="22.4" y1="265.60" x2="24.099999999999998" y2="265.60" stroke="#555"/>
<line x1="22.4" y1="267.80" x2="24.099999999999998" y2="267.80" stroke="#555"/>
<line x1="22.4" y1="270.00" x2="29.9" y2="270.00" stroke="#5a5a5a"/>
<line x1="22.4" y1="272.20" x2="24.099999999999998" y2="272.20" stroke="#555"/>
<line x1="22.4" y1="274.40" x2="24.099999999999998" y2="274.40" stroke="#555"/>
<line x1="22.4" y1="276.60" x2="24.099999999999998" y2="276.60" stroke="#555"/>
<line x1="22.4" y1="278.80" x2="24.099999999999998" y2="278.80" stroke="#555"/>
<line x1="22.4" y1="281.00" x2="26.9" y2="281.00" stroke="#b8b8b8"/>
<line x1="22.4" y1="283.20" x2="24.099999999999998" y2="283.20" stroke="#555"/>
<line x1="22.4" y1="285.40" x2="24.099999999999998" y2="285.40" stroke="#555"/>
<line x1="22.4" y1="287.60" x2="24.099999999999998" y2="287.60" stroke="#555"/>
<line x1="22.4" y1="289.80" x2="24.099999999999998" y2="289.80" stroke="#555"/>
<line x1="22.4" y1="292.00" x2="29.9" y2="292.00" stroke="#5a5a5a"/>
<line x1="22.4" y1="294.20" x2="24.099999999999998" y2="294.20" stroke="#555"/>
<line x1="22.4" y1="296.40" x2="24.099999999999998" y2="296.40" stroke="#555"/>
<line x1="22.4" y1="298.60" x2="24.099999999999998" y2="298.60" stroke="#555"/>
<line x1="22.4" y1="300.80" x2="24.099999999999998" y2="300.80" stroke="#555"/>
<line x1="22.4" y1="303.00" x2="26.9" y2="303.00" stroke="#b8b8b8"/>
<line x1="22.4" y1="305.20" x2="24.099999999999998" y2="305.20" stroke="#555"/>
<line x1="22.4" y1="307.40" x2="24.099999999999998" y2="307.40" stroke="#555"/>
<line x1="22.4" y1="309.60" x2="24.099999999999998" y2="309.60" stroke="#555"/>
<line x1="22.4" y1="311.80" x2="24.099999999999998" y2="311.80" stroke="#555"/>
<line x1="22.4" y1="314.00" x2="29.9" y2="314.00" stroke="#5a5a5a"/>
<line x1="22.4" y1="316.20" x2="24.099999999999998" y2="316.20" stroke="#555"/>
<line x1="22.4" y1="318.40" x2="24.099999999999998" y2="318.40" stroke="#555"/>
<line x1="22.4" y1="320.60" x2="24.099999999999998" y2="320.60" stroke="#555"/>
<line x1="22.4" y1="322.80" x2="24.099999999999998" y2="322.80" stroke="#555"/>
<line x1="22.4" y1="325.00" x2="26.9" y2="325.00" stroke="#b8b8b8"/>
<line x1="22.4" y1="327.20" x2="24.099999999999998" y2="327.20" stroke="#555"/>
<line x1="22.4" y1="329.40" x2="24.099999999999998" y2="329.40" stroke="#555"/>
<line x1="22.4" y1="331.60" x2="24.099999999999998" y2="331.60" stroke="#555"/>
<line x1="22.4" y1="333.80" x2="24.099999999999998" y2="333.80" stroke="#555"/>
<line x1="22.4" y1="336.00" x2="29.9" y2="336.00" stroke="#5a5a5a"/>
<line x1="22.4" y1="338.20" x2="24.099999999999998" y2="338.20" stroke="#555"/>
<line x1="22.4" y1="340.40" x2="24.099999999999998" y2="340.40" stroke="#555"/>
<line x1="22.4" y1="342.60" x2="24.099999999999998" y2="342.60" stroke="#555"/>
<line x1="22.4" y1="344.80" x2="24.099999999999998" y2="344.80" stroke="#555"/>
<line x1="22.4" y1="347.00" x2="26.9" y2="347.00" stroke="#b8b8b8"/>
<line x1="22.4" y1="349.20" x2="24.099999999999998" y2="349.20" stroke="#555"/>
<line x1="22.4" y1="351.40" x2="24.099999999999998" y2="351.40" stroke="#555"/>
<line x1="22.4" y1="353.60" x2="24.099999999999998" y2="353.60" stroke="#555"/>
<line x1="22.4" y1="355.80" x2="24.099999999999998" y2="355.80" stroke="#555"/>
<line x1="22.4" y1="358.00" x2="29.9" y2="358.00" stroke="#5a5a5a"/>
<line x1="22.4" y1="360.20" x2="24.099999999999998" y2="360.20" stroke="#555"/>
<line x1="22.4" y1="362.40" x2="24.099999999999998" y2="362.40" stroke="#555"/>
<line x1="22.4" y1="364.60" x2="24.099999999999998" y2="364.60" stroke="#555"/>
<line x1="22.4" y1="366.80" x2="24.099999999999998" y2="366.80" stroke="#555"/>
<line x1="22.4" y1="369.00" x2="26.9" y2="369.00" stroke="#b8b8b8"/>
<line x1="22.4" y1="371.20" x2="24.099999999999998" y2="371.20" stroke="#555"/>
<line x1="22.4" y1="373.40" x2="24.099999999999998" y2="373.40" stroke="#555"/>
</g>
<g font-size="10.6" fill="#111" stroke="#111" stroke-width="0.22" text-anchor="middle">
<text x="11.85" y="31.15">0</text>
<text x="11.7" y="75.35">20</text>
<text x="10.95" y="120.25">40</text>
<text x="10.95" y="165.15">60</text>
<text x="10.8" y="207.55">80</text>
<text x="10.4" y="251.95">100</text>
<text x="10.65" y="294.15">120</text>
<text x="9.6" y="338.85">140</text>
</g>
<text x="20.3" y="24" font-size="10.8" fill="#111" stroke="#111" stroke-width="0.22">Mb</text>
<g font-size="12.2" fill="#111" stroke="#111" stroke-width="0.2" text-anchor="middle">
<text x="78.3" y="10.5" textLength="22.8" lengthAdjust="spacingAndGlyphs">Chr1</text>
<text x="132.3" y="10.5" textLength="22.8" lengthAdjust="spacingAndGlyphs">Chr2</text>
<text x="186.3" y="10.5" textLength="22.8" lengthAdjust="spacingAndGlyphs">Chr3</text>
<text x="240.3" y="10.5" textLength="22.8" lengthAdjust="spacingAndGlyphs">Chr4</text>
<text x="294.3" y="10.5" textLength="22.8" lengthAdjust="spacingAndGlyphs">Chr5</text>
<text x="348.3" y="10.5" textLength="22.8" lengthAdjust="spacingAndGlyphs">Chr6</text>
<text x="402.3" y="10.5" textLength="22.8" lengthAdjust="spacingAndGlyphs">Chr7</text>
<text x="456.3" y="10.5" textLength="22.8" lengthAdjust="spacingAndGlyphs">Chr8</text>
</g>
<rect x="73.85" y="26.5" width="10.4" height="317.70" rx="5.2" ry="5.2" fill="url(#g0)" stroke="#2a3c50" stroke-opacity="0.5" stroke-width="0.8"/>
<rect x="131.15" y="26.7" width="10.4" height="309.10" rx="5.2" ry="5.2" fill="url(#g1)" stroke="#2a3c50" stroke-opacity="0.5" stroke-width="0.8"/>
<rect x="182.35" y="27.0" width="10.4" height="296.50" rx="5.2" ry="5.2" fill="url(#g2)" stroke="#2a3c50" stroke-opacity="0.5" stroke-width="0.8"/>
<rect x="237.65" y="27.0" width="10.4" height="296.20" rx="5.2" ry="5.2" fill="url(#g3)" stroke="#2a3c50" stroke-opacity="0.5" stroke-width="0.8"/>
<rect x="292.05" y="27.5" width="10.4" height="295.90" rx="5.2" ry="5.2" fill="url(#g4)" stroke="#2a3c50" stroke-opacity="0.5" stroke-width="0.8"/>
<rect x="345.15" y="27.1" width="10.4" height="295.70" rx="5.2" ry="5.2" fill="url(#g5)" stroke="#2a3c50" stroke-opacity="0.5" stroke-width="0.8"/>
<rect x="399.35" y="27.5" width="10.4" height="283.70" rx="5.2" ry="5.2" fill="url(#g6)" stroke="#2a3c50" stroke-opacity="0.5" stroke-width="0.8"/>
<rect x="453.55" y="27.2" width="10.4" height="261.50" rx="5.2" ry="5.2" fill="url(#g7)" stroke="#2a3c50" stroke-opacity="0.5" stroke-width="0.8"/>
<g font-size="7.2" font-style="italic" fill="#000" stroke="#000" stroke-width="0.15">
<line x1="84.10" y1="33.50" x2="87.60" y2="33.50" stroke="#b4b4b4" stroke-width="0.45"/>
<polygon points="87.00,35.40 91.80,35.40 89.40,30.50" fill="#f05a3c" stroke="none"/>
<text x="92.90" y="35.15" textLength="21.73" lengthAdjust="spacingAndGlyphs">MaGT1</text>
<line x1="84.10" y1="50.40" x2="87.60" y2="50.40" stroke="#b4b4b4" stroke-width="0.45"/>
<polygon points="87.00,52.30 91.80,52.30 89.40,47.40" fill="#20c8d0" stroke="none"/>
<text x="92.90" y="52.05" textLength="21.73" lengthAdjust="spacingAndGlyphs">MaGT2</text>
<line x1="84.10" y1="67.00" x2="87.60" y2="67.00" stroke="#b4b4b4" stroke-width="0.45"/>
<polygon points="87.00,68.90 91.80,68.90 89.40,64.00" fill="#b02020" stroke="none"/>
<text x="92.90" y="68.65" textLength="21.73" lengthAdjust="spacingAndGlyphs">MaGT3</text>
<line x1="84.10" y1="84.80" x2="87.60" y2="84.80" stroke="#b4b4b4" stroke-width="0.45"/>
<polygon points="87.00,86.70 91.80,86.70 89.40,81.80" fill="#f020f0" stroke="none"/>
<text x="92.90" y="86.45" textLength="21.73" lengthAdjust="spacingAndGlyphs">MaGT4</text>
<line x1="84.10" y1="91.70" x2="87.60" y2="91.70" stroke="#b4b4b4" stroke-width="0.45"/>
<polygon points="87.00,93.60 91.80,93.60 89.40,88.70" fill="#208a30" stroke="none"/>
<text x="92.90" y="93.35" textLength="21.73" lengthAdjust="spacingAndGlyphs">MaGT5</text>
<line x1="84.10" y1="98.40" x2="87.60" y2="98.40" stroke="#b4b4b4" stroke-width="0.45"/>
<polygon points="87.00,100.30 91.80,100.30 89.40,95.40" fill="#f09088" stroke="none"/>
<text x="92.90" y="100.05" textLength="21.73" lengthAdjust="spacingAndGlyphs">MaGT6</text>
<line x1="84.10" y1="116.70" x2="87.60" y2="116.70" stroke="#b4b4b4" stroke-width="0.45"/>
<polygon points="87.00,118.60 91.80,118.60 89.40,113.70" fill="#f0209a" stroke="none"/>
<text x="92.90" y="118.35" textLength="21.73" lengthAdjust="spacingAndGlyphs">MaGT7</text>
<line x1="84.10" y1="134.70" x2="87.60" y2="134.70" stroke="#b4b4b4" stroke-width="0.45"/>
<polygon points="87.00,136.60 91.80,136.60 89.40,131.70" fill="#90e8a0" stroke="none"/>
<text x="92.90" y="136.35" textLength="21.73" lengthAdjust="spacingAndGlyphs">MaGT8</text>
<line x1="84.10" y1="138.70" x2="87.60" y2="138.70" stroke="#b4b4b4" stroke-width="0.45"/>
<polygon points="87.00,140.60 91.80,140.60 89.40,135.70" fill="#20b0f0" stroke="none"/>
<text x="92.90" y="140.35" textLength="21.73" lengthAdjust="spacingAndGlyphs">MaGT9</text>
<line x1="84.10" y1="147.10" x2="87.60" y2="147.10" stroke="#b4b4b4" stroke-width="0.45"/>
<polygon points="87.00,149.00 91.80,149.00 89.40,144.10" fill="#1a1a70" stroke="none"/>
<text x="92.90" y="148.75" textLength="25.22" lengthAdjust="spacingAndGlyphs">MaGT10</text>
<line x1="84.10" y1="315.80" x2="87.60" y2="315.80" stroke="#b4b4b4" stroke-width="0.45"/>
<polygon points="87.00,317.70 91.80,317.70 89.40,312.80" fill="#9010d0" stroke="none"/>
<text x="92.90" y="317.45" textLength="25.22" lengthAdjust="spacingAndGlyphs">MaGT11</text>
<line x1="141.40" y1="99.10" x2="144.90" y2="99.10" stroke="#b4b4b4" stroke-width="0.45"/>
<polygon points="144.30,101.00 149.10,101.00 146.70,96.10" fill="#f0a000" stroke="none"/>
<text x="150.20" y="100.75" textLength="25.22" lengthAdjust="spacingAndGlyphs">MaGT12</text>
<line x1="141.40" y1="306.30" x2="144.90" y2="306.30" stroke="#b4b4b4" stroke-width="0.45"/>
<polygon points="144.30,308.20 149.10,308.20 146.70,303.30" fill="#b01818" stroke="none"/>
<text x="150.20" y="307.95" textLength="25.22" lengthAdjust="spacingAndGlyphs">MaGT13</text>
<line x1="192.60" y1="77.10" x2="196.10" y2="77.10" stroke="#b4b4b4" stroke-width="0.45"/>
<polygon points="195.50,79.00 200.30,79.00 197.90,74.10" fill="#5a14b4" stroke="none"/>
<text x="201.40" y="78.75" textLength="25.22" lengthAdjust="spacingAndGlyphs">MaGT14</text>
<line x1="192.60" y1="234.50" x2="196.10" y2="234.50" stroke="#b4b4b4" stroke-width="0.45"/>
<polygon points="195.50,236.40 200.30,236.40 197.90,231.50" fill="#d01414" stroke="none"/>
<text x="201.40" y="236.15" textLength="25.22" lengthAdjust="spacingAndGlyphs">MaGT15</text>
<line x1="192.60" y1="262.00" x2="196.10" y2="262.00" stroke="#b4b4b4" stroke-width="0.45"/>
<polygon points="195.50,263.90 200.30,263.90 197.90,259.00" fill="#f030f0" stroke="none"/>
<text x="201.40" y="263.65" textLength="25.22" lengthAdjust="spacingAndGlyphs">MaGT16</text>
<line x1="192.60" y1="300.70" x2="196.10" y2="300.70" stroke="#b4b4b4" stroke-width="0.45"/>
<polygon points="195.50,302.60 200.30,302.60 197.90,297.70" fill="#208a30" stroke="none"/>
<text x="201.40" y="302.35" textLength="25.22" lengthAdjust="spacingAndGlyphs">MaGT17</text>
<line x1="192.60" y1="307.80" x2="196.10" y2="307.80" stroke="#b4b4b4" stroke-width="0.45"/>
<polygon points="195.50,309.70 200.30,309.70 197.90,304.80" fill="#f09088" stroke="none"/>
<text x="201.40" y="309.45" textLength="25.22" lengthAdjust="spacingAndGlyphs">MaGT18</text>
<line x1="192.60" y1="320.90" x2="196.10" y2="320.90" stroke="#b4b4b4" stroke-width="0.45"/>
<polygon points="195.50,322.80 200.30,322.80 197.90,317.90" fill="#f0209a" stroke="none"/>
<text x="201.40" y="322.55" textLength="25.22" lengthAdjust="spacingAndGlyphs">MaGT19</text>
<line x1="247.90" y1="30.30" x2="251.40" y2="30.30" stroke="#b4b4b4" stroke-width="0.45"/>
<polygon points="250.80,32.20 255.60,32.20 253.20,27.30" fill="#90e8a0" stroke="none"/>
<text x="256.70" y="31.95" textLength="25.22" lengthAdjust="spacingAndGlyphs">MaGT20</text>
<line x1="247.90" y1="38.30" x2="251.40" y2="38.30" stroke="#b4b4b4" stroke-width="0.45"/>
<polygon points="250.80,40.20 255.60,40.20 253.20,35.30" fill="#30b8f0" stroke="none"/>
<text x="256.70" y="39.95" textLength="25.22" lengthAdjust="spacingAndGlyphs">MaGT21</text>
<line x1="247.90" y1="46.70" x2="251.40" y2="46.70" stroke="#b4b4b4" stroke-width="0.45"/>
<polygon points="250.80,48.60 255.60,48.60 253.20,43.70" fill="#1a1a70" stroke="none"/>
<text x="256.70" y="48.35" textLength="25.22" lengthAdjust="spacingAndGlyphs">MaGT22</text>
<line x1="247.90" y1="234.90" x2="251.40" y2="234.90" stroke="#b4b4b4" stroke-width="0.45"/>
<polygon points="250.80,236.80 255.60,236.80 253.20,231.90" fill="#9010d0" stroke="none"/>
<text x="256.70" y="236.55" textLength="25.22" lengthAdjust="spacingAndGlyphs">MaGT23</text>
<line x1="247.90" y1="306.00" x2="251.40" y2="306.00" stroke="#b4b4b4" stroke-width="0.45"/>
<polygon points="250.80,307.90 255.60,307.90 253.20,303.00" fill="#f0a000" stroke="none"/>
<text x="256.70" y="307.65" textLength="25.22" lengthAdjust="spacingAndGlyphs">MaGT24</text>
<line x1="302.30" y1="58.50" x2="305.80" y2="58.50" stroke="#b4b4b4" stroke-width="0.45"/>
<polygon points="305.20,60.40 310.00,60.40 307.60,55.50" fill="#b01818" stroke="none"/>
<text x="311.10" y="60.15" textLength="25.22" lengthAdjust="spacingAndGlyphs">MaGT25</text>
<line x1="302.30" y1="300.40" x2="305.80" y2="300.40" stroke="#b4b4b4" stroke-width="0.45"/>
<polygon points="305.20,302.30 310.00,302.30 307.60,297.40" fill="#4a1a90" stroke="none"/>
<text x="311.10" y="302.05" textLength="25.22" lengthAdjust="spacingAndGlyphs">MaGT26</text>
<line x1="355.40" y1="43.80" x2="358.90" y2="43.80" stroke="#b4b4b4" stroke-width="0.45"/>
<polygon points="358.30,45.70 363.10,45.70 360.70,40.80" fill="#f090f0" stroke="none"/>
<text x="364.20" y="45.45" textLength="25.22" lengthAdjust="spacingAndGlyphs">MaGT27</text>
<line x1="355.40" y1="79.90" x2="358.90" y2="79.90" stroke="#b4b4b4" stroke-width="0.45"/>
<polygon points="358.30,81.80 363.10,81.80 360.70,76.90" fill="#f05a3c" stroke="none"/>
<text x="364.20" y="81.55" textLength="25.22" lengthAdjust="spacingAndGlyphs">MaGT28</text>
<line x1="409.60" y1="45.00" x2="413.10" y2="45.00" stroke="#b4b4b4" stroke-width="0.45"/>
<polygon points="412.50,46.90 417.30,46.90 414.90,42.00" fill="#20c8d0" stroke="none"/>
<text x="418.40" y="46.65" textLength="25.22" lengthAdjust="spacingAndGlyphs">MaGT29</text>
<line x1="409.60" y1="240.50" x2="413.10" y2="240.50" stroke="#b4b4b4" stroke-width="0.45"/>
<polygon points="412.50,242.40 417.30,242.40 414.90,237.50" fill="#b02020" stroke="none"/>
<text x="418.40" y="242.15" textLength="25.22" lengthAdjust="spacingAndGlyphs">MaGT30</text>
<line x1="409.60" y1="291.50" x2="413.10" y2="291.50" stroke="#b4b4b4" stroke-width="0.45"/>
<polygon points="412.50,293.40 417.30,293.40 414.90,288.50" fill="#f020f0" stroke="none"/>
<text x="418.40" y="293.15" textLength="25.22" lengthAdjust="spacingAndGlyphs">MaGT31</text>
<line x1="463.80" y1="250.80" x2="467.30" y2="250.80" stroke="#b4b4b4" stroke-width="0.45"/>
<polygon points="466.70,252.70 471.50,252.70 469.10,247.80" fill="#208a30" stroke="none"/>
<text x="472.60" y="252.45" textLength="25.22" lengthAdjust="spacingAndGlyphs">MaGT32</text>
<line x1="463.80" y1="258.80" x2="467.30" y2="258.80" stroke="#b4b4b4" stroke-width="0.45"/>
<polygon points="466.70,260.70 471.50,260.70 469.10,255.80" fill="#f09088" stroke="none"/>
<text x="472.60" y="260.45" textLength="25.22" lengthAdjust="spacingAndGlyphs">MaGT33</text>
<line x1="463.80" y1="285.30" x2="467.30" y2="285.30" stroke="#b4b4b4" stroke-width="0.45"/>
<polygon points="466.70,287.20 471.50,287.20 469.10,282.30" fill="#f0209a" stroke="none"/>
<text x="472.60" y="286.95" textLength="25.22" lengthAdjust="spacingAndGlyphs">MaGT34</text>
</g>
<rect x="529.1" y="24.7" width="16.2" height="80" fill="url(#leg)"/>
<text x="537.5" y="22.6" font-size="10" fill="#111" stroke="#111" stroke-width="0.22" text-anchor="middle">High</text>
<text x="537" y="115.6" font-size="10" fill="#111" stroke="#111" stroke-width="0.22" text-anchor="middle">Low</text>
</svg></body></html>
